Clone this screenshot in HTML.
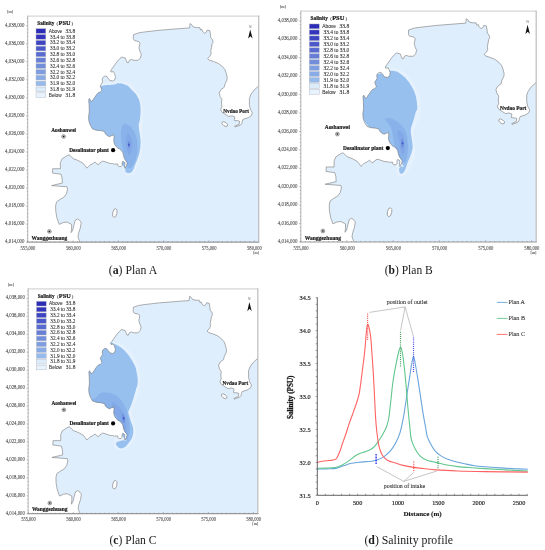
<!DOCTYPE html>
<html><head><meta charset="utf-8"><title>Salinity distribution</title>
<style>html,body{margin:0;padding:0;background:#fff;width:545px;height:550px;overflow:hidden}svg{display:block}</style>
</head><body>
<svg width="545" height="550" viewBox="0 0 545 550">
<rect width="545" height="550" fill="#fff"/>
<g>
<clipPath id="seaa"><path d="M258.7 86.0 L254.0 90.1 L250.8 94.7 L249.4 98.3 L249.4 104.8 L250.4 109.4 L252.2 112.6 L251.7 115.3 L248.5 117.6 L243.0 119.4 L242.3 121.0 L241.8 123.5 L240.6 125.0 L235.0 127.0 L234.6 126.3 L239.2 124.3 L239.6 121.2 L237.5 120.6 L234.6 120.6 L234.0 119.6 L234.8 119.0 L234.6 116.7 L232.0 115.8 L228.8 116.5 L226.1 114.9 L221.9 112.1 L220.6 109.4 L221.9 106.6 L221.5 102.9 L221.9 99.3 L220.1 96.5 L219.2 92.8 L221.0 89.6 L224.2 87.3 L225.1 83.7 L227.0 80.0 L227.2 77.0 L226.0 72.5 L224.9 69.5 L222.4 66.5 L218.3 63.4 L213.3 61.4 L208.8 59.9 L207.7 58.4 L209.8 56.4 L211.1 53.8 L210.8 50.8 L211.5 47.3 L212.1 43.8 L213.1 42.2 L212.5 39.7 L210.8 37.7 L210.5 34.7 L209.8 30.6 L207.2 30.1 L206.4 32.2 L204.7 33.2 L202.7 31.6 L201.7 29.1 L200.7 30.1 L199.7 27.6 L196.6 27.6 L193.1 26.9 L191.6 24.6 L190.1 23.6 L189.6 27.9 L180.0 28.6 L160.0 30.2 L145.0 31.9 L139.0 32.8 L133.5 34.6 L133.3 38.8 L134.4 40.6 L138.6 41.5 L140.0 43.3 L139.0 47.9 L140.0 51.6 L141.3 54.4 L140.4 58.0 L138.1 60.3 L133.5 60.3 L131.2 59.4 L129.4 60.3 L128.5 62.6 L127.1 62.6 L126.2 60.3 L125.3 58.0 L121.6 57.1 L119.8 58.5 L117.0 61.7 L110.6 70.8 L111.0 72.0 L113.4 71.6 L114.3 73.3 L115.5 76.6 L114.7 79.9 L112.6 81.1 L109.7 80.3 L108.1 78.2 L106.4 76.1 L104.6 76.2 L102.6 77.8 L102.2 79.8 L102.7 81.9 L100.2 85.9 L101.2 88.3 L101.9 90.4 L100.3 91.9 L98.2 92.8 L96.3 95.0 L92.0 101.3 L90.7 100.9 L89.5 98.4 L88.7 99.7 L89.1 104.6 L89.3 111.4 L88.6 116.9 L88.9 121.1 L90.3 125.2 L92.6 128.9 L96.2 130.2 L101.3 130.7 L104.5 131.6 L105.4 133.9 L106.8 135.3 L109.5 136.7 L111.4 135.7 L113.7 134.8 L114.1 137.1 L113.7 140.8 L114.5 144.0 L115.9 146.3 L117.8 148.1 L119.6 149.0 L121.3 150.5 L122.8 152.5 L123.5 155.8 L124.3 158.4 L125.4 160.2 L126.8 162.1 L127.2 163.5 L126.5 165.4 L125.4 167.6 L125.0 168.3 L124.6 165.7 L125.0 163.5 L124.3 162.1 L122.8 161.3 L122.1 162.8 L122.1 165.4 L121.0 166.5 L119.1 166.5 L117.6 165.4 L118.0 164.2 L116.5 163.9 L114.7 164.2 L112.5 163.5 L110.3 163.5 L108.1 162.8 L105.1 161.7 L102.5 161.1 L99.5 163.2 L98.4 164.8 L96.8 163.7 L95.1 162.1 L93.4 163.2 L91.8 164.3 L90.2 164.8 L88.5 166.5 L86.8 168.1 L85.2 165.9 L83.0 163.2 L78.0 160.4 L73.6 158.8 L71.4 157.1 L69.2 154.7 L66.5 156.0 L62.1 158.8 L60.4 162.6 L60.4 168.7 L52.7 168.7 L52.5 173.1 L61.0 174.2 L62.1 178.0 L62.4 183.0 L51.6 185.6 L67.0 186.8 L67.6 189.0 L66.5 193.5 L64.3 196.8 L59.9 199.5 L56.5 201.9 L55.6 206.0 L55.8 211.5 L56.9 217.9 L59.2 224.4 L63.3 222.5 L67.0 222.1 L71.6 224.4 L71.6 228.0 L71.1 232.6 L72.5 230.8 L73.9 225.3 L75.3 220.2 L77.6 218.9 L79.9 220.7 L81.2 222.5 L80.3 228.0 L78.5 233.5 L78.0 237.2 L79.4 240.9 L79.9 242.2 L258.7 242.2 Z"/></clipPath>
<rect x="27.7" y="16.3" width="231.0" height="225.9" fill="#fff"/>
<path d="M258.7 86.0 L254.0 90.1 L250.8 94.7 L249.4 98.3 L249.4 104.8 L250.4 109.4 L252.2 112.6 L251.7 115.3 L248.5 117.6 L243.0 119.4 L242.3 121.0 L241.8 123.5 L240.6 125.0 L235.0 127.0 L234.6 126.3 L239.2 124.3 L239.6 121.2 L237.5 120.6 L234.6 120.6 L234.0 119.6 L234.8 119.0 L234.6 116.7 L232.0 115.8 L228.8 116.5 L226.1 114.9 L221.9 112.1 L220.6 109.4 L221.9 106.6 L221.5 102.9 L221.9 99.3 L220.1 96.5 L219.2 92.8 L221.0 89.6 L224.2 87.3 L225.1 83.7 L227.0 80.0 L227.2 77.0 L226.0 72.5 L224.9 69.5 L222.4 66.5 L218.3 63.4 L213.3 61.4 L208.8 59.9 L207.7 58.4 L209.8 56.4 L211.1 53.8 L210.8 50.8 L211.5 47.3 L212.1 43.8 L213.1 42.2 L212.5 39.7 L210.8 37.7 L210.5 34.7 L209.8 30.6 L207.2 30.1 L206.4 32.2 L204.7 33.2 L202.7 31.6 L201.7 29.1 L200.7 30.1 L199.7 27.6 L196.6 27.6 L193.1 26.9 L191.6 24.6 L190.1 23.6 L189.6 27.9 L180.0 28.6 L160.0 30.2 L145.0 31.9 L139.0 32.8 L133.5 34.6 L133.3 38.8 L134.4 40.6 L138.6 41.5 L140.0 43.3 L139.0 47.9 L140.0 51.6 L141.3 54.4 L140.4 58.0 L138.1 60.3 L133.5 60.3 L131.2 59.4 L129.4 60.3 L128.5 62.6 L127.1 62.6 L126.2 60.3 L125.3 58.0 L121.6 57.1 L119.8 58.5 L117.0 61.7 L110.6 70.8 L111.0 72.0 L113.4 71.6 L114.3 73.3 L115.5 76.6 L114.7 79.9 L112.6 81.1 L109.7 80.3 L108.1 78.2 L106.4 76.1 L104.6 76.2 L102.6 77.8 L102.2 79.8 L102.7 81.9 L100.2 85.9 L101.2 88.3 L101.9 90.4 L100.3 91.9 L98.2 92.8 L96.3 95.0 L92.0 101.3 L90.7 100.9 L89.5 98.4 L88.7 99.7 L89.1 104.6 L89.3 111.4 L88.6 116.9 L88.9 121.1 L90.3 125.2 L92.6 128.9 L96.2 130.2 L101.3 130.7 L104.5 131.6 L105.4 133.9 L106.8 135.3 L109.5 136.7 L111.4 135.7 L113.7 134.8 L114.1 137.1 L113.7 140.8 L114.5 144.0 L115.9 146.3 L117.8 148.1 L119.6 149.0 L121.3 150.5 L122.8 152.5 L123.5 155.8 L124.3 158.4 L125.4 160.2 L126.8 162.1 L127.2 163.5 L126.5 165.4 L125.4 167.6 L125.0 168.3 L124.6 165.7 L125.0 163.5 L124.3 162.1 L122.8 161.3 L122.1 162.8 L122.1 165.4 L121.0 166.5 L119.1 166.5 L117.6 165.4 L118.0 164.2 L116.5 163.9 L114.7 164.2 L112.5 163.5 L110.3 163.5 L108.1 162.8 L105.1 161.7 L102.5 161.1 L99.5 163.2 L98.4 164.8 L96.8 163.7 L95.1 162.1 L93.4 163.2 L91.8 164.3 L90.2 164.8 L88.5 166.5 L86.8 168.1 L85.2 165.9 L83.0 163.2 L78.0 160.4 L73.6 158.8 L71.4 157.1 L69.2 154.7 L66.5 156.0 L62.1 158.8 L60.4 162.6 L60.4 168.7 L52.7 168.7 L52.5 173.1 L61.0 174.2 L62.1 178.0 L62.4 183.0 L51.6 185.6 L67.0 186.8 L67.6 189.0 L66.5 193.5 L64.3 196.8 L59.9 199.5 L56.5 201.9 L55.6 206.0 L55.8 211.5 L56.9 217.9 L59.2 224.4 L63.3 222.5 L67.0 222.1 L71.6 224.4 L71.6 228.0 L71.1 232.6 L72.5 230.8 L73.9 225.3 L75.3 220.2 L77.6 218.9 L79.9 220.7 L81.2 222.5 L80.3 228.0 L78.5 233.5 L78.0 237.2 L79.4 240.9 L79.9 242.2 L258.7 242.2 Z" fill="#dfeefc"/>
<g clip-path="url(#seaa)">
<path d="M101.00 83.00 C104.20 82.60 108.40 82.34 112.00 82.00 C115.60 81.66 116.20 81.24 119.00 81.30 C121.80 81.36 123.60 81.50 126.00 82.30 C128.40 83.10 129.00 83.70 131.00 85.30 C133.00 86.90 134.20 88.16 136.00 90.30 C137.80 92.44 138.72 93.46 140.00 96.00 C141.28 98.54 141.84 99.80 142.40 103.00 C142.96 106.20 142.84 107.60 142.80 112.00 C142.76 116.40 142.24 119.40 142.20 125.00 C142.16 130.60 142.60 135.00 142.60 140.00 C142.60 145.00 142.72 146.00 142.20 150.00 C141.68 154.00 141.14 156.40 140.00 160.00 C138.86 163.60 137.80 165.40 136.50 168.00 C135.20 170.60 134.80 171.54 133.50 173.00 C132.20 174.46 131.60 174.90 130.00 175.30 C128.40 175.70 126.80 176.26 125.50 175.00 C124.20 173.74 126.60 174.00 123.50 169.00 C120.40 164.00 117.90 158.80 110.00 150.00 C102.10 141.20 89.20 136.00 84.00 125.00 C78.80 114.00 81.60 103.20 84.00 95.00 C86.40 86.80 92.60 86.40 96.00 84.00 C99.40 81.60 97.80 83.40 101.00 83.00 Z" fill="#e5f1fd"/>
<path d="M101.00 86.30 C102.56 86.04 102.12 85.58 104.80 85.20 C107.48 84.82 111.60 84.78 114.40 84.40 C117.20 84.02 116.74 83.30 118.80 83.30 C120.86 83.30 122.78 83.82 124.70 84.40 C126.62 84.98 127.08 85.18 128.40 86.20 C129.72 87.22 129.90 88.02 131.30 89.50 C132.70 90.98 134.08 91.98 135.40 93.60 C136.72 95.22 137.04 95.92 137.90 97.60 C138.76 99.28 139.18 99.94 139.70 102.00 C140.22 104.06 140.34 105.70 140.50 107.90 C140.66 110.10 140.64 110.58 140.50 113.00 C140.36 115.42 140.16 117.42 139.80 120.00 C139.44 122.58 138.70 122.98 138.70 125.90 C138.70 128.82 139.42 131.32 139.80 134.60 C140.18 137.88 140.60 139.02 140.60 142.30 C140.60 145.58 140.40 147.74 139.80 151.00 C139.20 154.26 138.48 155.98 137.60 158.60 C136.72 161.22 136.26 161.92 135.40 164.10 C134.54 166.28 134.28 167.76 133.30 169.50 C132.32 171.24 131.82 172.14 130.50 172.80 C129.18 173.46 127.78 173.24 126.70 172.80 C125.62 172.36 125.64 171.76 125.10 170.60 C124.56 169.44 127.02 171.12 124.00 167.00 C120.98 162.88 118.00 158.40 110.00 150.00 C102.00 141.60 89.20 136.00 84.00 125.00 C78.80 114.00 81.40 102.70 84.00 95.00 C86.60 87.30 93.60 88.24 97.00 86.50 C100.40 84.76 99.44 86.56 101.00 86.30 Z" fill="#97c0ef"/>
<path d="M124.00 124.00 C125.44 123.22 126.90 124.40 128.50 125.30 C130.10 126.20 130.46 126.20 132.00 128.50 C133.54 130.80 135.08 132.96 136.20 136.80 C137.32 140.64 137.64 143.34 137.60 147.70 C137.56 152.06 136.96 155.04 136.00 158.60 C135.04 162.16 134.24 163.62 132.80 165.50 C131.36 167.38 130.16 168.70 128.80 168.00 C127.44 167.30 127.16 165.60 126.00 162.00 C124.84 158.40 123.96 154.40 123.00 150.00 C122.04 145.60 121.54 144.16 121.20 140.00 C120.86 135.84 120.74 132.40 121.30 129.20 C121.86 126.00 122.56 124.78 124.00 124.00 Z" fill="#8ab2ea"/>
<path d="M128.00 133.50 C128.90 133.50 129.92 135.10 130.80 137.00 C131.68 138.90 132.20 140.40 132.40 143.00 C132.60 145.60 132.32 147.60 131.80 150.00 C131.28 152.40 130.64 154.60 129.80 155.00 C128.96 155.40 128.38 154.20 127.60 152.00 C126.82 149.80 126.16 147.00 125.90 144.00 C125.64 141.00 125.88 139.10 126.30 137.00 C126.72 134.90 127.10 133.50 128.00 133.50 Z" fill="#82a8e7"/>
<path d="M128.90 141.00 C129.30 141.00 129.80 141.90 130.00 143.00 C130.20 144.10 130.12 145.44 129.90 146.50 C129.68 147.56 129.28 148.34 128.90 148.30 C128.52 148.26 128.18 147.36 128.00 146.30 C127.82 145.24 127.82 144.06 128.00 143.00 C128.18 141.94 128.50 141.00 128.90 141.00 Z" fill="#7092de"/>
<path d="M128.90 143.40 C129.24 143.40 129.80 144.14 129.80 144.70 C129.80 145.26 129.24 146.20 128.90 146.20 C128.56 146.20 128.10 145.26 128.10 144.70 C128.10 144.14 128.56 143.40 128.90 143.40 Z" fill="#4152ca"/>
</g>
<path d="M258.7 86.0 L254.0 90.1 L250.8 94.7 L249.4 98.3 L249.4 104.8 L250.4 109.4 L252.2 112.6 L251.7 115.3 L248.5 117.6 L243.0 119.4 L242.3 121.0 L241.8 123.5 L240.6 125.0 L235.0 127.0 L234.6 126.3 L239.2 124.3 L239.6 121.2 L237.5 120.6 L234.6 120.6 L234.0 119.6 L234.8 119.0 L234.6 116.7 L232.0 115.8 L228.8 116.5 L226.1 114.9 L221.9 112.1 L220.6 109.4 L221.9 106.6 L221.5 102.9 L221.9 99.3 L220.1 96.5 L219.2 92.8 L221.0 89.6 L224.2 87.3 L225.1 83.7 L227.0 80.0 L227.2 77.0 L226.0 72.5 L224.9 69.5 L222.4 66.5 L218.3 63.4 L213.3 61.4 L208.8 59.9 L207.7 58.4 L209.8 56.4 L211.1 53.8 L210.8 50.8 L211.5 47.3 L212.1 43.8 L213.1 42.2 L212.5 39.7 L210.8 37.7 L210.5 34.7 L209.8 30.6 L207.2 30.1 L206.4 32.2 L204.7 33.2 L202.7 31.6 L201.7 29.1 L200.7 30.1 L199.7 27.6 L196.6 27.6 L193.1 26.9 L191.6 24.6 L190.1 23.6 L189.6 27.9 L180.0 28.6 L160.0 30.2 L145.0 31.9 L139.0 32.8 L133.5 34.6 L133.3 38.8 L134.4 40.6 L138.6 41.5 L140.0 43.3 L139.0 47.9 L140.0 51.6 L141.3 54.4 L140.4 58.0 L138.1 60.3 L133.5 60.3 L131.2 59.4 L129.4 60.3 L128.5 62.6 L127.1 62.6 L126.2 60.3 L125.3 58.0 L121.6 57.1 L119.8 58.5 L117.0 61.7 L110.6 70.8 L111.0 72.0 L113.4 71.6 L114.3 73.3 L115.5 76.6 L114.7 79.9 L112.6 81.1 L109.7 80.3 L108.1 78.2 L106.4 76.1 L104.6 76.2 L102.6 77.8 L102.2 79.8 L102.7 81.9 L100.2 85.9 L101.2 88.3 L101.9 90.4 L100.3 91.9 L98.2 92.8 L96.3 95.0 L92.0 101.3 L90.7 100.9 L89.5 98.4 L88.7 99.7 L89.1 104.6 L89.3 111.4 L88.6 116.9 L88.9 121.1 L90.3 125.2 L92.6 128.9 L96.2 130.2 L101.3 130.7 L104.5 131.6 L105.4 133.9 L106.8 135.3 L109.5 136.7 L111.4 135.7 L113.7 134.8 L114.1 137.1 L113.7 140.8 L114.5 144.0 L115.9 146.3 L117.8 148.1 L119.6 149.0 L121.3 150.5 L122.8 152.5 L123.5 155.8 L124.3 158.4 L125.4 160.2 L126.8 162.1 L127.2 163.5 L126.5 165.4 L125.4 167.6 L125.0 168.3 L124.6 165.7 L125.0 163.5 L124.3 162.1 L122.8 161.3 L122.1 162.8 L122.1 165.4 L121.0 166.5 L119.1 166.5 L117.6 165.4 L118.0 164.2 L116.5 163.9 L114.7 164.2 L112.5 163.5 L110.3 163.5 L108.1 162.8 L105.1 161.7 L102.5 161.1 L99.5 163.2 L98.4 164.8 L96.8 163.7 L95.1 162.1 L93.4 163.2 L91.8 164.3 L90.2 164.8 L88.5 166.5 L86.8 168.1 L85.2 165.9 L83.0 163.2 L78.0 160.4 L73.6 158.8 L71.4 157.1 L69.2 154.7 L66.5 156.0 L62.1 158.8 L60.4 162.6 L60.4 168.7 L52.7 168.7 L52.5 173.1 L61.0 174.2 L62.1 178.0 L62.4 183.0 L51.6 185.6 L67.0 186.8 L67.6 189.0 L66.5 193.5 L64.3 196.8 L59.9 199.5 L56.5 201.9 L55.6 206.0 L55.8 211.5 L56.9 217.9 L59.2 224.4 L63.3 222.5 L67.0 222.1 L71.6 224.4 L71.6 228.0 L71.1 232.6 L72.5 230.8 L73.9 225.3 L75.3 220.2 L77.6 218.9 L79.9 220.7 L81.2 222.5 L80.3 228.0 L78.5 233.5 L78.0 237.2 L79.4 240.9 L79.9 242.2" fill="none" stroke="#7a7a7a" stroke-width="0.6" stroke-linejoin="round"/>
<ellipse cx="114.8" cy="213.0" rx="2.1" ry="4.4" transform="rotate(12 114.8 213.0)" fill="#fff" stroke="#7a7a7a" stroke-width="0.6"/>
<ellipse cx="224.8" cy="124.1" rx="3.2" ry="1.8" transform="rotate(35 224.8 124.1)" fill="#fff" stroke="#7a7a7a" stroke-width="0.6"/>
<path d="M27.2 16.1 H259.3" stroke="#d6d6d6" stroke-width="1.2"/>
<path d="M258.7 15.7 V242.2" stroke="#bdbdbd" stroke-width="1.2"/>
<path d="M27.7 15.7 V242.2" stroke="#bcbcbc" stroke-width="1.1"/>
<path d="M27.2 242.1 H259.3" stroke="#9a9a9a" stroke-width="1.1"/>
<path d="M27.7 242.20 h-1.6 M27.7 238.59 h-0.9 M27.7 234.98 h-0.9 M27.7 231.38 h-0.9 M27.7 227.77 h-0.9 M27.7 224.16 h-1.6 M27.7 220.55 h-0.9 M27.7 216.94 h-0.9 M27.7 213.34 h-0.9 M27.7 209.73 h-0.9 M27.7 206.12 h-1.6 M27.7 202.51 h-0.9 M27.7 198.90 h-0.9 M27.7 195.30 h-0.9 M27.7 191.69 h-0.9 M27.7 188.08 h-1.6 M27.7 184.47 h-0.9 M27.7 180.86 h-0.9 M27.7 177.26 h-0.9 M27.7 173.65 h-0.9 M27.7 170.04 h-1.6 M27.7 166.43 h-0.9 M27.7 162.82 h-0.9 M27.7 159.22 h-0.9 M27.7 155.61 h-0.9 M27.7 152.00 h-1.6 M27.7 148.39 h-0.9 M27.7 144.78 h-0.9 M27.7 141.18 h-0.9 M27.7 137.57 h-0.9 M27.7 133.96 h-1.6 M27.7 130.35 h-0.9 M27.7 126.74 h-0.9 M27.7 123.14 h-0.9 M27.7 119.53 h-0.9 M27.7 115.92 h-1.6 M27.7 112.31 h-0.9 M27.7 108.70 h-0.9 M27.7 105.10 h-0.9 M27.7 101.49 h-0.9 M27.7 97.88 h-1.6 M27.7 94.27 h-0.9 M27.7 90.66 h-0.9 M27.7 87.06 h-0.9 M27.7 83.45 h-0.9 M27.7 79.84 h-1.6 M27.7 76.23 h-0.9 M27.7 72.62 h-0.9 M27.7 69.02 h-0.9 M27.7 65.41 h-0.9 M27.7 61.80 h-1.6 M27.7 58.19 h-0.9 M27.7 54.58 h-0.9 M27.7 50.98 h-0.9 M27.7 47.37 h-0.9 M27.7 43.76 h-1.6 M27.7 40.15 h-0.9 M27.7 36.54 h-0.9 M27.7 32.94 h-0.9 M27.7 29.33 h-0.9 M27.7 25.72 h-1.6 M27.7 22.11 h-0.9 M27.7 18.50 h-0.9 M27.70 242.1 v-1.6 M32.23 242.1 v-0.9 M36.76 242.1 v-0.9 M41.29 242.1 v-0.9 M45.82 242.1 v-0.9 M50.35 242.1 v-0.9 M54.88 242.1 v-0.9 M59.41 242.1 v-0.9 M63.94 242.1 v-0.9 M68.47 242.1 v-0.9 M73.00 242.1 v-1.6 M77.53 242.1 v-0.9 M82.06 242.1 v-0.9 M86.59 242.1 v-0.9 M91.12 242.1 v-0.9 M95.65 242.1 v-0.9 M100.18 242.1 v-0.9 M104.71 242.1 v-0.9 M109.24 242.1 v-0.9 M113.77 242.1 v-0.9 M118.30 242.1 v-1.6 M122.83 242.1 v-0.9 M127.36 242.1 v-0.9 M131.89 242.1 v-0.9 M136.42 242.1 v-0.9 M140.95 242.1 v-0.9 M145.48 242.1 v-0.9 M150.01 242.1 v-0.9 M154.54 242.1 v-0.9 M159.07 242.1 v-0.9 M163.60 242.1 v-1.6 M168.13 242.1 v-0.9 M172.66 242.1 v-0.9 M177.19 242.1 v-0.9 M181.72 242.1 v-0.9 M186.25 242.1 v-0.9 M190.78 242.1 v-0.9 M195.31 242.1 v-0.9 M199.84 242.1 v-0.9 M204.37 242.1 v-0.9 M208.90 242.1 v-1.6 M213.43 242.1 v-0.9 M217.96 242.1 v-0.9 M222.49 242.1 v-0.9 M227.02 242.1 v-0.9 M231.55 242.1 v-0.9 M236.08 242.1 v-0.9 M240.61 242.1 v-0.9 M245.14 242.1 v-0.9 M249.67 242.1 v-0.9 M254.20 242.1 v-1.6" stroke="#777" stroke-width="0.5"/>
<text x="5.10" y="26.75" font-size="5.20" font-family="'Liberation Serif', 'Times New Roman', serif" fill="#3a3a3a" textLength="19.30" lengthAdjust="spacingAndGlyphs" stroke="#3a3a3a" stroke-width="0.06">4,038,000</text><text x="5.10" y="44.79" font-size="5.20" font-family="'Liberation Serif', 'Times New Roman', serif" fill="#3a3a3a" textLength="19.30" lengthAdjust="spacingAndGlyphs" stroke="#3a3a3a" stroke-width="0.06">4,036,000</text><text x="5.10" y="62.83" font-size="5.20" font-family="'Liberation Serif', 'Times New Roman', serif" fill="#3a3a3a" textLength="19.30" lengthAdjust="spacingAndGlyphs" stroke="#3a3a3a" stroke-width="0.06">4,034,000</text><text x="5.10" y="80.87" font-size="5.20" font-family="'Liberation Serif', 'Times New Roman', serif" fill="#3a3a3a" textLength="19.30" lengthAdjust="spacingAndGlyphs" stroke="#3a3a3a" stroke-width="0.06">4,032,000</text><text x="5.10" y="98.91" font-size="5.20" font-family="'Liberation Serif', 'Times New Roman', serif" fill="#3a3a3a" textLength="19.30" lengthAdjust="spacingAndGlyphs" stroke="#3a3a3a" stroke-width="0.06">4,030,000</text><text x="5.10" y="116.95" font-size="5.20" font-family="'Liberation Serif', 'Times New Roman', serif" fill="#3a3a3a" textLength="19.30" lengthAdjust="spacingAndGlyphs" stroke="#3a3a3a" stroke-width="0.06">4,028,000</text><text x="5.10" y="134.99" font-size="5.20" font-family="'Liberation Serif', 'Times New Roman', serif" fill="#3a3a3a" textLength="19.30" lengthAdjust="spacingAndGlyphs" stroke="#3a3a3a" stroke-width="0.06">4,026,000</text><text x="5.10" y="153.03" font-size="5.20" font-family="'Liberation Serif', 'Times New Roman', serif" fill="#3a3a3a" textLength="19.30" lengthAdjust="spacingAndGlyphs" stroke="#3a3a3a" stroke-width="0.06">4,024,000</text><text x="5.10" y="171.07" font-size="5.20" font-family="'Liberation Serif', 'Times New Roman', serif" fill="#3a3a3a" textLength="19.30" lengthAdjust="spacingAndGlyphs" stroke="#3a3a3a" stroke-width="0.06">4,022,000</text><text x="5.10" y="189.11" font-size="5.20" font-family="'Liberation Serif', 'Times New Roman', serif" fill="#3a3a3a" textLength="19.30" lengthAdjust="spacingAndGlyphs" stroke="#3a3a3a" stroke-width="0.06">4,020,000</text><text x="5.10" y="207.15" font-size="5.20" font-family="'Liberation Serif', 'Times New Roman', serif" fill="#3a3a3a" textLength="19.30" lengthAdjust="spacingAndGlyphs" stroke="#3a3a3a" stroke-width="0.06">4,018,000</text><text x="5.10" y="225.19" font-size="5.20" font-family="'Liberation Serif', 'Times New Roman', serif" fill="#3a3a3a" textLength="19.30" lengthAdjust="spacingAndGlyphs" stroke="#3a3a3a" stroke-width="0.06">4,016,000</text><text x="5.10" y="243.23" font-size="5.20" font-family="'Liberation Serif', 'Times New Roman', serif" fill="#3a3a3a" textLength="19.30" lengthAdjust="spacingAndGlyphs" stroke="#3a3a3a" stroke-width="0.06">4,014,000</text><text x="20.60" y="249.60" font-size="5.20" font-family="'Liberation Serif', 'Times New Roman', serif" fill="#3a3a3a" textLength="14.80" lengthAdjust="spacingAndGlyphs" stroke="#3a3a3a" stroke-width="0.06">555,000</text><text x="65.90" y="249.60" font-size="5.20" font-family="'Liberation Serif', 'Times New Roman', serif" fill="#3a3a3a" textLength="14.80" lengthAdjust="spacingAndGlyphs" stroke="#3a3a3a" stroke-width="0.06">560,000</text><text x="111.20" y="249.60" font-size="5.20" font-family="'Liberation Serif', 'Times New Roman', serif" fill="#3a3a3a" textLength="14.80" lengthAdjust="spacingAndGlyphs" stroke="#3a3a3a" stroke-width="0.06">565,000</text><text x="156.50" y="249.60" font-size="5.20" font-family="'Liberation Serif', 'Times New Roman', serif" fill="#3a3a3a" textLength="14.80" lengthAdjust="spacingAndGlyphs" stroke="#3a3a3a" stroke-width="0.06">570,000</text><text x="201.80" y="249.60" font-size="5.20" font-family="'Liberation Serif', 'Times New Roman', serif" fill="#3a3a3a" textLength="14.80" lengthAdjust="spacingAndGlyphs" stroke="#3a3a3a" stroke-width="0.06">575,000</text><text x="247.10" y="249.60" font-size="5.20" font-family="'Liberation Serif', 'Times New Roman', serif" fill="#3a3a3a" textLength="14.80" lengthAdjust="spacingAndGlyphs" stroke="#3a3a3a" stroke-width="0.06">580,000</text>
<text x="7.20" y="12.80" font-size="4.20" font-family="'Liberation Serif', 'Times New Roman', serif" fill="#3a3a3a" textLength="6.00" lengthAdjust="spacingAndGlyphs" stroke="#3a3a3a" stroke-width="0.06">[m]</text>
<text x="253.20" y="253.60" font-size="4.20" font-family="'Liberation Serif', 'Times New Roman', serif" fill="#3a3a3a" textLength="5.80" lengthAdjust="spacingAndGlyphs" stroke="#3a3a3a" stroke-width="0.06">[m]</text>
<text x="37.30" y="25.20" font-size="5.90" font-family="'Liberation Serif', 'Times New Roman', serif" fill="#1a1a1a" font-weight="bold" textLength="17.00" lengthAdjust="spacingAndGlyphs" stroke="#1a1a1a" stroke-width="0.20">Salinity</text>
<text x="56.60" y="25.00" font-size="4.80" font-family="'Liberation Serif', 'Times New Roman', serif" fill="#333" stroke="#333" stroke-width="0.10">(</text>
<text x="58.50" y="25.20" font-size="5.90" font-family="'Liberation Serif', 'Times New Roman', serif" fill="#1a1a1a" font-weight="bold" textLength="12.00" lengthAdjust="spacingAndGlyphs" stroke="#1a1a1a" stroke-width="0.20">PSU</text>
<text x="71.60" y="25.00" font-size="4.80" font-family="'Liberation Serif', 'Times New Roman', serif" fill="#333" stroke="#333" stroke-width="0.10">)</text>
<rect x="36.0" y="28.70" width="9.8" height="4.7" fill="#2c2cb6" stroke="#b4b8c4" stroke-width="0.45"/>
<text x="48.70" y="32.80" font-size="4.80" font-family="'Liberation Sans', Arial, sans-serif" fill="#2a2a2a" stroke="#2a2a2a" stroke-width="0.05">Above</text>
<text x="65.60" y="32.80" font-size="5.30" font-family="'Liberation Serif', 'Times New Roman', serif" fill="#2a2a2a" textLength="9.60" lengthAdjust="spacingAndGlyphs" stroke="#2a2a2a" stroke-width="0.07">33.8</text>
<rect x="36.0" y="34.53" width="9.8" height="4.7" fill="#3434bc" stroke="#b4b8c4" stroke-width="0.45"/>
<text x="50.00" y="38.63" font-size="5.30" font-family="'Liberation Serif', 'Times New Roman', serif" fill="#2a2a2a" textLength="25.20" lengthAdjust="spacingAndGlyphs" stroke="#2a2a2a" stroke-width="0.07">33.4 to 33.8</text>
<rect x="36.0" y="40.36" width="9.8" height="4.7" fill="#3d45c3" stroke="#b4b8c4" stroke-width="0.45"/>
<text x="50.00" y="44.46" font-size="5.30" font-family="'Liberation Serif', 'Times New Roman', serif" fill="#2a2a2a" textLength="25.20" lengthAdjust="spacingAndGlyphs" stroke="#2a2a2a" stroke-width="0.07">33.2 to 33.4</text>
<rect x="36.0" y="46.19" width="9.8" height="4.7" fill="#4b58c9" stroke="#b4b8c4" stroke-width="0.45"/>
<text x="50.00" y="50.29" font-size="5.30" font-family="'Liberation Serif', 'Times New Roman', serif" fill="#2a2a2a" textLength="25.20" lengthAdjust="spacingAndGlyphs" stroke="#2a2a2a" stroke-width="0.07">33.0 to 33.2</text>
<rect x="36.0" y="52.02" width="9.8" height="4.7" fill="#586bd0" stroke="#b4b8c4" stroke-width="0.45"/>
<text x="50.00" y="56.12" font-size="5.30" font-family="'Liberation Serif', 'Times New Roman', serif" fill="#2a2a2a" textLength="25.20" lengthAdjust="spacingAndGlyphs" stroke="#2a2a2a" stroke-width="0.07">32.8 to 33.0</text>
<rect x="36.0" y="57.85" width="9.8" height="4.7" fill="#667ed6" stroke="#b4b8c4" stroke-width="0.45"/>
<text x="50.00" y="61.95" font-size="5.30" font-family="'Liberation Serif', 'Times New Roman', serif" fill="#2a2a2a" textLength="25.20" lengthAdjust="spacingAndGlyphs" stroke="#2a2a2a" stroke-width="0.07">32.6 to 32.8</text>
<rect x="36.0" y="63.68" width="9.8" height="4.7" fill="#728edb" stroke="#b4b8c4" stroke-width="0.45"/>
<text x="50.00" y="67.78" font-size="5.30" font-family="'Liberation Serif', 'Times New Roman', serif" fill="#2a2a2a" textLength="25.20" lengthAdjust="spacingAndGlyphs" stroke="#2a2a2a" stroke-width="0.07">32.4 to 32.6</text>
<rect x="36.0" y="69.51" width="9.8" height="4.7" fill="#7e9ee1" stroke="#b4b8c4" stroke-width="0.45"/>
<text x="50.00" y="73.61" font-size="5.30" font-family="'Liberation Serif', 'Times New Roman', serif" fill="#2a2a2a" textLength="25.20" lengthAdjust="spacingAndGlyphs" stroke="#2a2a2a" stroke-width="0.07">32.2 to 32.4</text>
<rect x="36.0" y="75.34" width="9.8" height="4.7" fill="#8aace6" stroke="#b4b8c4" stroke-width="0.45"/>
<text x="50.00" y="79.44" font-size="5.30" font-family="'Liberation Serif', 'Times New Roman', serif" fill="#2a2a2a" textLength="25.20" lengthAdjust="spacingAndGlyphs" stroke="#2a2a2a" stroke-width="0.07">32.0 to 32.2</text>
<rect x="36.0" y="81.17" width="9.8" height="4.7" fill="#96baec" stroke="#b4b8c4" stroke-width="0.45"/>
<text x="50.00" y="85.27" font-size="5.30" font-family="'Liberation Serif', 'Times New Roman', serif" fill="#2a2a2a" textLength="25.20" lengthAdjust="spacingAndGlyphs" stroke="#2a2a2a" stroke-width="0.07">31.9 to 32.0</text>
<rect x="36.0" y="87.00" width="9.8" height="4.7" fill="#dcecfb" stroke="#b4b8c4" stroke-width="0.45"/>
<text x="50.00" y="91.10" font-size="5.30" font-family="'Liberation Serif', 'Times New Roman', serif" fill="#2a2a2a" textLength="25.20" lengthAdjust="spacingAndGlyphs" stroke="#2a2a2a" stroke-width="0.07">31.8 to 31.9</text>
<rect x="36.0" y="92.83" width="9.8" height="4.7" fill="#e8f3fd" stroke="#b4b8c4" stroke-width="0.45"/>
<text x="48.70" y="96.93" font-size="4.80" font-family="'Liberation Sans', Arial, sans-serif" fill="#2a2a2a" stroke="#2a2a2a" stroke-width="0.05">Below</text>
<text x="65.60" y="96.93" font-size="5.30" font-family="'Liberation Serif', 'Times New Roman', serif" fill="#2a2a2a" textLength="9.60" lengthAdjust="spacingAndGlyphs" stroke="#2a2a2a" stroke-width="0.07">31.8</text>
<text x="249.20" y="27.60" font-size="3.00" font-family="'Liberation Sans', Arial, sans-serif" fill="#555">N</text>
<path d="M250.2 29.4 L252.6 38.6 L250.4 36.2 L248.1 38.6 Z" fill="#111"/>
<text x="51.20" y="131.80" font-size="5.40" font-family="'Liberation Serif', 'Times New Roman', serif" fill="#1a1a1a" font-weight="bold" textLength="24.80" lengthAdjust="spacingAndGlyphs" stroke="#1a1a1a" stroke-width="0.18">Aoshanwei</text>
<circle cx="63.6" cy="136.5" r="1.9" fill="#c4c4c4" stroke="#666" stroke-width="0.5"/><circle cx="63.6" cy="136.5" r="0.75" fill="#111"/>
<text x="69.20" y="151.90" font-size="5.40" font-family="'Liberation Serif', 'Times New Roman', serif" fill="#1a1a1a" font-weight="bold" textLength="39.60" lengthAdjust="spacingAndGlyphs" stroke="#1a1a1a" stroke-width="0.18">Desalinator plant</text>
<circle cx="113.1" cy="150.2" r="2.1" fill="#000"/>
<text x="223.30" y="112.70" font-size="5.20" font-family="'Liberation Serif', 'Times New Roman', serif" fill="#1a1a1a" font-weight="bold" textLength="25.70" lengthAdjust="spacingAndGlyphs" stroke="#1a1a1a" stroke-width="0.18">Nvdao Port</text>
<circle cx="49.4" cy="231.4" r="1.9" fill="#c4c4c4" stroke="#666" stroke-width="0.5"/><circle cx="49.4" cy="231.4" r="0.75" fill="#111"/>
<text x="31.50" y="239.80" font-size="5.40" font-family="'Liberation Serif', 'Times New Roman', serif" fill="#1a1a1a" font-weight="bold" textLength="35.80" lengthAdjust="spacingAndGlyphs" stroke="#1a1a1a" stroke-width="0.18">Wanggezhuang</text>
</g>
<g transform="matrix(1.0190 0 0 1.0215 272.574 -5.350)">
<clipPath id="seab"><path d="M258.7 86.0 L254.0 90.1 L250.8 94.7 L249.4 98.3 L249.4 104.8 L250.4 109.4 L252.2 112.6 L251.7 115.3 L248.5 117.6 L243.0 119.4 L242.3 121.0 L241.8 123.5 L240.6 125.0 L235.0 127.0 L234.6 126.3 L239.2 124.3 L239.6 121.2 L237.5 120.6 L234.6 120.6 L234.0 119.6 L234.8 119.0 L234.6 116.7 L232.0 115.8 L228.8 116.5 L226.1 114.9 L221.9 112.1 L220.6 109.4 L221.9 106.6 L221.5 102.9 L221.9 99.3 L220.1 96.5 L219.2 92.8 L221.0 89.6 L224.2 87.3 L225.1 83.7 L227.0 80.0 L227.2 77.0 L226.0 72.5 L224.9 69.5 L222.4 66.5 L218.3 63.4 L213.3 61.4 L208.8 59.9 L207.7 58.4 L209.8 56.4 L211.1 53.8 L210.8 50.8 L211.5 47.3 L212.1 43.8 L213.1 42.2 L212.5 39.7 L210.8 37.7 L210.5 34.7 L209.8 30.6 L207.2 30.1 L206.4 32.2 L204.7 33.2 L202.7 31.6 L201.7 29.1 L200.7 30.1 L199.7 27.6 L196.6 27.6 L193.1 26.9 L191.6 24.6 L190.1 23.6 L189.6 27.9 L180.0 28.6 L160.0 30.2 L145.0 31.9 L139.0 32.8 L133.5 34.6 L133.3 38.8 L134.4 40.6 L138.6 41.5 L140.0 43.3 L139.0 47.9 L140.0 51.6 L141.3 54.4 L140.4 58.0 L138.1 60.3 L133.5 60.3 L131.2 59.4 L129.4 60.3 L128.5 62.6 L127.1 62.6 L126.2 60.3 L125.3 58.0 L121.6 57.1 L119.8 58.5 L117.0 61.7 L110.6 70.8 L111.0 72.0 L113.4 71.6 L114.3 73.3 L115.5 76.6 L114.7 79.9 L112.6 81.1 L109.7 80.3 L108.1 78.2 L106.4 76.1 L104.6 76.2 L102.6 77.8 L102.2 79.8 L102.7 81.9 L100.2 85.9 L101.2 88.3 L101.9 90.4 L100.3 91.9 L98.2 92.8 L96.3 95.0 L92.0 101.3 L90.7 100.9 L89.5 98.4 L88.7 99.7 L89.1 104.6 L89.3 111.4 L88.6 116.9 L88.9 121.1 L90.3 125.2 L92.6 128.9 L96.2 130.2 L101.3 130.7 L104.5 131.6 L105.4 133.9 L106.8 135.3 L109.5 136.7 L111.4 135.7 L113.7 134.8 L114.1 137.1 L113.7 140.8 L114.5 144.0 L115.9 146.3 L117.8 148.1 L119.6 149.0 L121.3 150.5 L122.8 152.5 L123.5 155.8 L124.3 158.4 L125.4 160.2 L126.8 162.1 L127.2 163.5 L126.5 165.4 L125.4 167.6 L125.0 168.3 L124.6 165.7 L125.0 163.5 L124.3 162.1 L122.8 161.3 L122.1 162.8 L122.1 165.4 L121.0 166.5 L119.1 166.5 L117.6 165.4 L118.0 164.2 L116.5 163.9 L114.7 164.2 L112.5 163.5 L110.3 163.5 L108.1 162.8 L105.1 161.7 L102.5 161.1 L99.5 163.2 L98.4 164.8 L96.8 163.7 L95.1 162.1 L93.4 163.2 L91.8 164.3 L90.2 164.8 L88.5 166.5 L86.8 168.1 L85.2 165.9 L83.0 163.2 L78.0 160.4 L73.6 158.8 L71.4 157.1 L69.2 154.7 L66.5 156.0 L62.1 158.8 L60.4 162.6 L60.4 168.7 L52.7 168.7 L52.5 173.1 L61.0 174.2 L62.1 178.0 L62.4 183.0 L51.6 185.6 L67.0 186.8 L67.6 189.0 L66.5 193.5 L64.3 196.8 L59.9 199.5 L56.5 201.9 L55.6 206.0 L55.8 211.5 L56.9 217.9 L59.2 224.4 L63.3 222.5 L67.0 222.1 L71.6 224.4 L71.6 228.0 L71.1 232.6 L72.5 230.8 L73.9 225.3 L75.3 220.2 L77.6 218.9 L79.9 220.7 L81.2 222.5 L80.3 228.0 L78.5 233.5 L78.0 237.2 L79.4 240.9 L79.9 242.2 L258.7 242.2 Z"/></clipPath>
<rect x="27.7" y="16.3" width="231.0" height="225.9" fill="#fff"/>
<path d="M258.7 86.0 L254.0 90.1 L250.8 94.7 L249.4 98.3 L249.4 104.8 L250.4 109.4 L252.2 112.6 L251.7 115.3 L248.5 117.6 L243.0 119.4 L242.3 121.0 L241.8 123.5 L240.6 125.0 L235.0 127.0 L234.6 126.3 L239.2 124.3 L239.6 121.2 L237.5 120.6 L234.6 120.6 L234.0 119.6 L234.8 119.0 L234.6 116.7 L232.0 115.8 L228.8 116.5 L226.1 114.9 L221.9 112.1 L220.6 109.4 L221.9 106.6 L221.5 102.9 L221.9 99.3 L220.1 96.5 L219.2 92.8 L221.0 89.6 L224.2 87.3 L225.1 83.7 L227.0 80.0 L227.2 77.0 L226.0 72.5 L224.9 69.5 L222.4 66.5 L218.3 63.4 L213.3 61.4 L208.8 59.9 L207.7 58.4 L209.8 56.4 L211.1 53.8 L210.8 50.8 L211.5 47.3 L212.1 43.8 L213.1 42.2 L212.5 39.7 L210.8 37.7 L210.5 34.7 L209.8 30.6 L207.2 30.1 L206.4 32.2 L204.7 33.2 L202.7 31.6 L201.7 29.1 L200.7 30.1 L199.7 27.6 L196.6 27.6 L193.1 26.9 L191.6 24.6 L190.1 23.6 L189.6 27.9 L180.0 28.6 L160.0 30.2 L145.0 31.9 L139.0 32.8 L133.5 34.6 L133.3 38.8 L134.4 40.6 L138.6 41.5 L140.0 43.3 L139.0 47.9 L140.0 51.6 L141.3 54.4 L140.4 58.0 L138.1 60.3 L133.5 60.3 L131.2 59.4 L129.4 60.3 L128.5 62.6 L127.1 62.6 L126.2 60.3 L125.3 58.0 L121.6 57.1 L119.8 58.5 L117.0 61.7 L110.6 70.8 L111.0 72.0 L113.4 71.6 L114.3 73.3 L115.5 76.6 L114.7 79.9 L112.6 81.1 L109.7 80.3 L108.1 78.2 L106.4 76.1 L104.6 76.2 L102.6 77.8 L102.2 79.8 L102.7 81.9 L100.2 85.9 L101.2 88.3 L101.9 90.4 L100.3 91.9 L98.2 92.8 L96.3 95.0 L92.0 101.3 L90.7 100.9 L89.5 98.4 L88.7 99.7 L89.1 104.6 L89.3 111.4 L88.6 116.9 L88.9 121.1 L90.3 125.2 L92.6 128.9 L96.2 130.2 L101.3 130.7 L104.5 131.6 L105.4 133.9 L106.8 135.3 L109.5 136.7 L111.4 135.7 L113.7 134.8 L114.1 137.1 L113.7 140.8 L114.5 144.0 L115.9 146.3 L117.8 148.1 L119.6 149.0 L121.3 150.5 L122.8 152.5 L123.5 155.8 L124.3 158.4 L125.4 160.2 L126.8 162.1 L127.2 163.5 L126.5 165.4 L125.4 167.6 L125.0 168.3 L124.6 165.7 L125.0 163.5 L124.3 162.1 L122.8 161.3 L122.1 162.8 L122.1 165.4 L121.0 166.5 L119.1 166.5 L117.6 165.4 L118.0 164.2 L116.5 163.9 L114.7 164.2 L112.5 163.5 L110.3 163.5 L108.1 162.8 L105.1 161.7 L102.5 161.1 L99.5 163.2 L98.4 164.8 L96.8 163.7 L95.1 162.1 L93.4 163.2 L91.8 164.3 L90.2 164.8 L88.5 166.5 L86.8 168.1 L85.2 165.9 L83.0 163.2 L78.0 160.4 L73.6 158.8 L71.4 157.1 L69.2 154.7 L66.5 156.0 L62.1 158.8 L60.4 162.6 L60.4 168.7 L52.7 168.7 L52.5 173.1 L61.0 174.2 L62.1 178.0 L62.4 183.0 L51.6 185.6 L67.0 186.8 L67.6 189.0 L66.5 193.5 L64.3 196.8 L59.9 199.5 L56.5 201.9 L55.6 206.0 L55.8 211.5 L56.9 217.9 L59.2 224.4 L63.3 222.5 L67.0 222.1 L71.6 224.4 L71.6 228.0 L71.1 232.6 L72.5 230.8 L73.9 225.3 L75.3 220.2 L77.6 218.9 L79.9 220.7 L81.2 222.5 L80.3 228.0 L78.5 233.5 L78.0 237.2 L79.4 240.9 L79.9 242.2 L258.7 242.2 Z" fill="#dfeefc"/>
<g clip-path="url(#seab)">
<path d="M111.31 72.79 C114.26 72.49 117.00 71.90 120.14 72.30 C123.28 72.69 124.46 73.37 127.01 74.74 C129.56 76.11 130.74 77.00 132.90 79.15 C135.06 81.30 136.04 82.67 137.81 85.51 C139.57 88.35 140.46 90.21 141.73 93.34 C143.01 96.48 143.56 98.04 144.19 101.18 C144.81 104.31 144.87 105.87 144.87 109.01 C144.87 112.14 144.91 113.51 144.19 116.84 C143.46 120.17 142.36 122.32 141.24 125.65 C140.12 128.98 139.08 130.15 138.59 133.48 C138.10 136.81 138.55 138.57 138.79 142.29 C139.02 146.01 139.67 148.56 139.77 152.08 C139.87 155.60 139.97 156.98 139.28 159.91 C138.59 162.85 137.71 164.02 136.34 166.77 C134.96 169.51 134.08 171.46 132.41 173.62 C130.74 175.77 129.66 176.75 127.99 177.53 C126.33 178.32 125.34 178.32 124.07 177.53 C122.79 176.75 122.40 175.77 121.62 173.62 C120.83 171.46 123.38 173.03 120.14 166.77 C116.91 160.50 112.29 153.06 105.42 142.29 C98.55 131.52 87.76 125.06 85.80 112.92 C83.83 100.78 91.68 89.43 95.61 81.60 C99.54 73.76 102.28 75.53 105.42 73.76 C108.56 72.00 108.37 73.08 111.31 72.79 Z" fill="#e5f1fd"/>
<path d="M113.27 74.74 C115.69 74.35 117.32 74.39 119.46 74.74 C121.60 75.10 121.99 75.33 123.97 76.51 C125.95 77.68 127.58 78.99 129.37 80.62 C131.15 82.24 131.47 82.75 132.90 84.63 C134.33 86.51 135.28 87.86 136.53 90.02 C137.79 92.17 138.28 93.07 139.18 95.40 C140.08 97.73 140.50 98.96 141.05 101.66 C141.60 104.37 141.79 106.66 141.93 108.91 C142.07 111.16 142.01 111.75 141.73 112.92 C141.46 114.10 141.24 112.79 140.56 114.78 C139.87 116.78 139.20 119.85 138.30 122.91 C137.40 125.96 136.57 127.72 136.04 130.05 C135.51 132.38 135.55 132.40 135.65 134.56 C135.75 136.71 136.18 138.02 136.53 140.82 C136.89 143.62 137.42 145.93 137.42 148.56 C137.42 151.18 137.16 151.61 136.53 153.94 C135.90 156.27 135.18 157.86 134.28 160.21 C133.37 162.56 132.84 163.51 132.02 165.69 C131.19 167.86 130.98 169.29 130.15 171.07 C129.33 172.85 128.80 173.79 127.90 174.60 C126.99 175.40 126.35 175.44 125.64 175.09 C124.93 174.73 124.62 173.83 124.36 172.83 C124.11 171.84 124.01 170.99 124.36 170.09 C124.72 169.19 125.60 169.21 126.13 168.33 C126.66 167.45 131.15 170.90 127.01 165.69 C122.87 160.48 113.67 152.84 105.42 142.29 C97.18 131.74 87.76 124.67 85.80 112.92 C83.83 101.18 91.29 90.80 95.61 83.55 C99.93 76.31 103.85 78.46 107.39 76.70 C110.92 74.94 110.86 75.14 113.27 74.74 Z" fill="#97c0ef"/>
<path d="M110.92 121.54 C111.90 121.17 113.59 120.50 115.83 121.05 C118.06 121.60 119.77 122.65 122.11 124.28 C124.44 125.90 125.70 126.94 127.50 129.17 C129.31 131.41 130.13 132.56 131.13 135.44 C132.14 138.32 132.16 140.24 132.51 143.56 C132.86 146.89 133.20 148.38 132.90 152.08 C132.61 155.78 131.84 159.72 131.04 162.07 C130.23 164.42 130.86 165.83 128.88 163.83 C126.90 161.83 123.46 158.11 121.12 152.08 C118.79 146.05 118.44 138.43 117.20 133.68 C115.96 128.92 116.20 130.45 114.94 128.29 C113.69 126.14 111.72 124.26 110.92 122.91 C110.11 121.56 109.94 121.91 110.92 121.54 Z" fill="#8ab2ea"/>
<path d="M123.48 132.80 C124.46 132.60 126.33 133.66 127.50 135.44 C128.68 137.22 128.88 138.96 129.37 141.70 C129.86 144.44 130.04 146.29 129.96 149.14 C129.88 152.00 129.76 155.02 128.98 156.00 C128.19 156.98 126.91 156.39 126.03 154.04 C125.15 151.69 125.25 147.77 124.56 144.25 C123.87 140.72 122.81 138.71 122.60 136.42 C122.38 134.13 122.50 132.99 123.48 132.80 Z" fill="#82a8e7"/>
<path d="M127.31 140.82 C127.76 140.92 128.23 142.29 128.49 143.76 C128.74 145.23 128.82 146.79 128.58 148.16 C128.35 149.54 127.78 150.71 127.31 150.61 C126.84 150.51 126.44 149.14 126.23 147.68 C126.01 146.21 126.01 144.64 126.23 143.27 C126.44 141.90 126.86 140.72 127.31 140.82 Z" fill="#7092de"/>
<path d="M127.50 144.25 C127.84 144.25 128.39 145.01 128.39 145.52 C128.39 146.03 127.84 146.79 127.50 146.79 C127.17 146.79 126.72 146.03 126.72 145.52 C126.72 145.01 127.17 144.25 127.50 144.25 Z" fill="#4152ca"/>
</g>
<path d="M258.7 86.0 L254.0 90.1 L250.8 94.7 L249.4 98.3 L249.4 104.8 L250.4 109.4 L252.2 112.6 L251.7 115.3 L248.5 117.6 L243.0 119.4 L242.3 121.0 L241.8 123.5 L240.6 125.0 L235.0 127.0 L234.6 126.3 L239.2 124.3 L239.6 121.2 L237.5 120.6 L234.6 120.6 L234.0 119.6 L234.8 119.0 L234.6 116.7 L232.0 115.8 L228.8 116.5 L226.1 114.9 L221.9 112.1 L220.6 109.4 L221.9 106.6 L221.5 102.9 L221.9 99.3 L220.1 96.5 L219.2 92.8 L221.0 89.6 L224.2 87.3 L225.1 83.7 L227.0 80.0 L227.2 77.0 L226.0 72.5 L224.9 69.5 L222.4 66.5 L218.3 63.4 L213.3 61.4 L208.8 59.9 L207.7 58.4 L209.8 56.4 L211.1 53.8 L210.8 50.8 L211.5 47.3 L212.1 43.8 L213.1 42.2 L212.5 39.7 L210.8 37.7 L210.5 34.7 L209.8 30.6 L207.2 30.1 L206.4 32.2 L204.7 33.2 L202.7 31.6 L201.7 29.1 L200.7 30.1 L199.7 27.6 L196.6 27.6 L193.1 26.9 L191.6 24.6 L190.1 23.6 L189.6 27.9 L180.0 28.6 L160.0 30.2 L145.0 31.9 L139.0 32.8 L133.5 34.6 L133.3 38.8 L134.4 40.6 L138.6 41.5 L140.0 43.3 L139.0 47.9 L140.0 51.6 L141.3 54.4 L140.4 58.0 L138.1 60.3 L133.5 60.3 L131.2 59.4 L129.4 60.3 L128.5 62.6 L127.1 62.6 L126.2 60.3 L125.3 58.0 L121.6 57.1 L119.8 58.5 L117.0 61.7 L110.6 70.8 L111.0 72.0 L113.4 71.6 L114.3 73.3 L115.5 76.6 L114.7 79.9 L112.6 81.1 L109.7 80.3 L108.1 78.2 L106.4 76.1 L104.6 76.2 L102.6 77.8 L102.2 79.8 L102.7 81.9 L100.2 85.9 L101.2 88.3 L101.9 90.4 L100.3 91.9 L98.2 92.8 L96.3 95.0 L92.0 101.3 L90.7 100.9 L89.5 98.4 L88.7 99.7 L89.1 104.6 L89.3 111.4 L88.6 116.9 L88.9 121.1 L90.3 125.2 L92.6 128.9 L96.2 130.2 L101.3 130.7 L104.5 131.6 L105.4 133.9 L106.8 135.3 L109.5 136.7 L111.4 135.7 L113.7 134.8 L114.1 137.1 L113.7 140.8 L114.5 144.0 L115.9 146.3 L117.8 148.1 L119.6 149.0 L121.3 150.5 L122.8 152.5 L123.5 155.8 L124.3 158.4 L125.4 160.2 L126.8 162.1 L127.2 163.5 L126.5 165.4 L125.4 167.6 L125.0 168.3 L124.6 165.7 L125.0 163.5 L124.3 162.1 L122.8 161.3 L122.1 162.8 L122.1 165.4 L121.0 166.5 L119.1 166.5 L117.6 165.4 L118.0 164.2 L116.5 163.9 L114.7 164.2 L112.5 163.5 L110.3 163.5 L108.1 162.8 L105.1 161.7 L102.5 161.1 L99.5 163.2 L98.4 164.8 L96.8 163.7 L95.1 162.1 L93.4 163.2 L91.8 164.3 L90.2 164.8 L88.5 166.5 L86.8 168.1 L85.2 165.9 L83.0 163.2 L78.0 160.4 L73.6 158.8 L71.4 157.1 L69.2 154.7 L66.5 156.0 L62.1 158.8 L60.4 162.6 L60.4 168.7 L52.7 168.7 L52.5 173.1 L61.0 174.2 L62.1 178.0 L62.4 183.0 L51.6 185.6 L67.0 186.8 L67.6 189.0 L66.5 193.5 L64.3 196.8 L59.9 199.5 L56.5 201.9 L55.6 206.0 L55.8 211.5 L56.9 217.9 L59.2 224.4 L63.3 222.5 L67.0 222.1 L71.6 224.4 L71.6 228.0 L71.1 232.6 L72.5 230.8 L73.9 225.3 L75.3 220.2 L77.6 218.9 L79.9 220.7 L81.2 222.5 L80.3 228.0 L78.5 233.5 L78.0 237.2 L79.4 240.9 L79.9 242.2" fill="none" stroke="#7a7a7a" stroke-width="0.6" stroke-linejoin="round"/>
<ellipse cx="114.8" cy="213.0" rx="2.1" ry="4.4" transform="rotate(12 114.8 213.0)" fill="#fff" stroke="#7a7a7a" stroke-width="0.6"/>
<ellipse cx="224.8" cy="124.1" rx="3.2" ry="1.8" transform="rotate(35 224.8 124.1)" fill="#fff" stroke="#7a7a7a" stroke-width="0.6"/>
<path d="M27.2 16.1 H259.3" stroke="#d6d6d6" stroke-width="1.2"/>
<path d="M258.7 15.7 V242.2" stroke="#bdbdbd" stroke-width="1.2"/>
<path d="M27.7 15.7 V242.2" stroke="#bcbcbc" stroke-width="1.1"/>
<path d="M27.2 242.1 H259.3" stroke="#9a9a9a" stroke-width="1.1"/>
<path d="M27.7 242.20 h-1.6 M27.7 238.59 h-0.9 M27.7 234.98 h-0.9 M27.7 231.38 h-0.9 M27.7 227.77 h-0.9 M27.7 224.16 h-1.6 M27.7 220.55 h-0.9 M27.7 216.94 h-0.9 M27.7 213.34 h-0.9 M27.7 209.73 h-0.9 M27.7 206.12 h-1.6 M27.7 202.51 h-0.9 M27.7 198.90 h-0.9 M27.7 195.30 h-0.9 M27.7 191.69 h-0.9 M27.7 188.08 h-1.6 M27.7 184.47 h-0.9 M27.7 180.86 h-0.9 M27.7 177.26 h-0.9 M27.7 173.65 h-0.9 M27.7 170.04 h-1.6 M27.7 166.43 h-0.9 M27.7 162.82 h-0.9 M27.7 159.22 h-0.9 M27.7 155.61 h-0.9 M27.7 152.00 h-1.6 M27.7 148.39 h-0.9 M27.7 144.78 h-0.9 M27.7 141.18 h-0.9 M27.7 137.57 h-0.9 M27.7 133.96 h-1.6 M27.7 130.35 h-0.9 M27.7 126.74 h-0.9 M27.7 123.14 h-0.9 M27.7 119.53 h-0.9 M27.7 115.92 h-1.6 M27.7 112.31 h-0.9 M27.7 108.70 h-0.9 M27.7 105.10 h-0.9 M27.7 101.49 h-0.9 M27.7 97.88 h-1.6 M27.7 94.27 h-0.9 M27.7 90.66 h-0.9 M27.7 87.06 h-0.9 M27.7 83.45 h-0.9 M27.7 79.84 h-1.6 M27.7 76.23 h-0.9 M27.7 72.62 h-0.9 M27.7 69.02 h-0.9 M27.7 65.41 h-0.9 M27.7 61.80 h-1.6 M27.7 58.19 h-0.9 M27.7 54.58 h-0.9 M27.7 50.98 h-0.9 M27.7 47.37 h-0.9 M27.7 43.76 h-1.6 M27.7 40.15 h-0.9 M27.7 36.54 h-0.9 M27.7 32.94 h-0.9 M27.7 29.33 h-0.9 M27.7 25.72 h-1.6 M27.7 22.11 h-0.9 M27.7 18.50 h-0.9 M27.70 242.1 v-1.6 M32.23 242.1 v-0.9 M36.76 242.1 v-0.9 M41.29 242.1 v-0.9 M45.82 242.1 v-0.9 M50.35 242.1 v-0.9 M54.88 242.1 v-0.9 M59.41 242.1 v-0.9 M63.94 242.1 v-0.9 M68.47 242.1 v-0.9 M73.00 242.1 v-1.6 M77.53 242.1 v-0.9 M82.06 242.1 v-0.9 M86.59 242.1 v-0.9 M91.12 242.1 v-0.9 M95.65 242.1 v-0.9 M100.18 242.1 v-0.9 M104.71 242.1 v-0.9 M109.24 242.1 v-0.9 M113.77 242.1 v-0.9 M118.30 242.1 v-1.6 M122.83 242.1 v-0.9 M127.36 242.1 v-0.9 M131.89 242.1 v-0.9 M136.42 242.1 v-0.9 M140.95 242.1 v-0.9 M145.48 242.1 v-0.9 M150.01 242.1 v-0.9 M154.54 242.1 v-0.9 M159.07 242.1 v-0.9 M163.60 242.1 v-1.6 M168.13 242.1 v-0.9 M172.66 242.1 v-0.9 M177.19 242.1 v-0.9 M181.72 242.1 v-0.9 M186.25 242.1 v-0.9 M190.78 242.1 v-0.9 M195.31 242.1 v-0.9 M199.84 242.1 v-0.9 M204.37 242.1 v-0.9 M208.90 242.1 v-1.6 M213.43 242.1 v-0.9 M217.96 242.1 v-0.9 M222.49 242.1 v-0.9 M227.02 242.1 v-0.9 M231.55 242.1 v-0.9 M236.08 242.1 v-0.9 M240.61 242.1 v-0.9 M245.14 242.1 v-0.9 M249.67 242.1 v-0.9 M254.20 242.1 v-1.6" stroke="#777" stroke-width="0.5"/>
<text x="5.10" y="26.75" font-size="5.20" font-family="'Liberation Serif', 'Times New Roman', serif" fill="#3a3a3a" textLength="19.30" lengthAdjust="spacingAndGlyphs" stroke="#3a3a3a" stroke-width="0.06">4,038,000</text><text x="5.10" y="44.79" font-size="5.20" font-family="'Liberation Serif', 'Times New Roman', serif" fill="#3a3a3a" textLength="19.30" lengthAdjust="spacingAndGlyphs" stroke="#3a3a3a" stroke-width="0.06">4,036,000</text><text x="5.10" y="62.83" font-size="5.20" font-family="'Liberation Serif', 'Times New Roman', serif" fill="#3a3a3a" textLength="19.30" lengthAdjust="spacingAndGlyphs" stroke="#3a3a3a" stroke-width="0.06">4,034,000</text><text x="5.10" y="80.87" font-size="5.20" font-family="'Liberation Serif', 'Times New Roman', serif" fill="#3a3a3a" textLength="19.30" lengthAdjust="spacingAndGlyphs" stroke="#3a3a3a" stroke-width="0.06">4,032,000</text><text x="5.10" y="98.91" font-size="5.20" font-family="'Liberation Serif', 'Times New Roman', serif" fill="#3a3a3a" textLength="19.30" lengthAdjust="spacingAndGlyphs" stroke="#3a3a3a" stroke-width="0.06">4,030,000</text><text x="5.10" y="116.95" font-size="5.20" font-family="'Liberation Serif', 'Times New Roman', serif" fill="#3a3a3a" textLength="19.30" lengthAdjust="spacingAndGlyphs" stroke="#3a3a3a" stroke-width="0.06">4,028,000</text><text x="5.10" y="134.99" font-size="5.20" font-family="'Liberation Serif', 'Times New Roman', serif" fill="#3a3a3a" textLength="19.30" lengthAdjust="spacingAndGlyphs" stroke="#3a3a3a" stroke-width="0.06">4,026,000</text><text x="5.10" y="153.03" font-size="5.20" font-family="'Liberation Serif', 'Times New Roman', serif" fill="#3a3a3a" textLength="19.30" lengthAdjust="spacingAndGlyphs" stroke="#3a3a3a" stroke-width="0.06">4,024,000</text><text x="5.10" y="171.07" font-size="5.20" font-family="'Liberation Serif', 'Times New Roman', serif" fill="#3a3a3a" textLength="19.30" lengthAdjust="spacingAndGlyphs" stroke="#3a3a3a" stroke-width="0.06">4,022,000</text><text x="5.10" y="189.11" font-size="5.20" font-family="'Liberation Serif', 'Times New Roman', serif" fill="#3a3a3a" textLength="19.30" lengthAdjust="spacingAndGlyphs" stroke="#3a3a3a" stroke-width="0.06">4,020,000</text><text x="5.10" y="207.15" font-size="5.20" font-family="'Liberation Serif', 'Times New Roman', serif" fill="#3a3a3a" textLength="19.30" lengthAdjust="spacingAndGlyphs" stroke="#3a3a3a" stroke-width="0.06">4,018,000</text><text x="5.10" y="225.19" font-size="5.20" font-family="'Liberation Serif', 'Times New Roman', serif" fill="#3a3a3a" textLength="19.30" lengthAdjust="spacingAndGlyphs" stroke="#3a3a3a" stroke-width="0.06">4,016,000</text><text x="5.10" y="243.23" font-size="5.20" font-family="'Liberation Serif', 'Times New Roman', serif" fill="#3a3a3a" textLength="19.30" lengthAdjust="spacingAndGlyphs" stroke="#3a3a3a" stroke-width="0.06">4,014,000</text><text x="20.60" y="249.60" font-size="5.20" font-family="'Liberation Serif', 'Times New Roman', serif" fill="#3a3a3a" textLength="14.80" lengthAdjust="spacingAndGlyphs" stroke="#3a3a3a" stroke-width="0.06">555,000</text><text x="65.90" y="249.60" font-size="5.20" font-family="'Liberation Serif', 'Times New Roman', serif" fill="#3a3a3a" textLength="14.80" lengthAdjust="spacingAndGlyphs" stroke="#3a3a3a" stroke-width="0.06">560,000</text><text x="111.20" y="249.60" font-size="5.20" font-family="'Liberation Serif', 'Times New Roman', serif" fill="#3a3a3a" textLength="14.80" lengthAdjust="spacingAndGlyphs" stroke="#3a3a3a" stroke-width="0.06">565,000</text><text x="156.50" y="249.60" font-size="5.20" font-family="'Liberation Serif', 'Times New Roman', serif" fill="#3a3a3a" textLength="14.80" lengthAdjust="spacingAndGlyphs" stroke="#3a3a3a" stroke-width="0.06">570,000</text><text x="201.80" y="249.60" font-size="5.20" font-family="'Liberation Serif', 'Times New Roman', serif" fill="#3a3a3a" textLength="14.80" lengthAdjust="spacingAndGlyphs" stroke="#3a3a3a" stroke-width="0.06">575,000</text><text x="247.10" y="249.60" font-size="5.20" font-family="'Liberation Serif', 'Times New Roman', serif" fill="#3a3a3a" textLength="14.80" lengthAdjust="spacingAndGlyphs" stroke="#3a3a3a" stroke-width="0.06">580,000</text>
<text x="7.20" y="12.80" font-size="4.20" font-family="'Liberation Serif', 'Times New Roman', serif" fill="#3a3a3a" textLength="6.00" lengthAdjust="spacingAndGlyphs" stroke="#3a3a3a" stroke-width="0.06">[m]</text>
<text x="253.20" y="253.60" font-size="4.20" font-family="'Liberation Serif', 'Times New Roman', serif" fill="#3a3a3a" textLength="5.80" lengthAdjust="spacingAndGlyphs" stroke="#3a3a3a" stroke-width="0.06">[m]</text>
<text x="37.30" y="25.20" font-size="5.90" font-family="'Liberation Serif', 'Times New Roman', serif" fill="#1a1a1a" font-weight="bold" textLength="17.00" lengthAdjust="spacingAndGlyphs" stroke="#1a1a1a" stroke-width="0.20">Salinity</text>
<text x="56.60" y="25.00" font-size="4.80" font-family="'Liberation Serif', 'Times New Roman', serif" fill="#333" stroke="#333" stroke-width="0.10">(</text>
<text x="58.50" y="25.20" font-size="5.90" font-family="'Liberation Serif', 'Times New Roman', serif" fill="#1a1a1a" font-weight="bold" textLength="12.00" lengthAdjust="spacingAndGlyphs" stroke="#1a1a1a" stroke-width="0.20">PSU</text>
<text x="71.60" y="25.00" font-size="4.80" font-family="'Liberation Serif', 'Times New Roman', serif" fill="#333" stroke="#333" stroke-width="0.10">)</text>
<rect x="36.0" y="28.70" width="9.8" height="4.7" fill="#2c2cb6" stroke="#b4b8c4" stroke-width="0.45"/>
<text x="48.70" y="32.80" font-size="4.80" font-family="'Liberation Sans', Arial, sans-serif" fill="#2a2a2a" stroke="#2a2a2a" stroke-width="0.05">Above</text>
<text x="65.60" y="32.80" font-size="5.30" font-family="'Liberation Serif', 'Times New Roman', serif" fill="#2a2a2a" textLength="9.60" lengthAdjust="spacingAndGlyphs" stroke="#2a2a2a" stroke-width="0.07">33.8</text>
<rect x="36.0" y="34.53" width="9.8" height="4.7" fill="#3434bc" stroke="#b4b8c4" stroke-width="0.45"/>
<text x="50.00" y="38.63" font-size="5.30" font-family="'Liberation Serif', 'Times New Roman', serif" fill="#2a2a2a" textLength="25.20" lengthAdjust="spacingAndGlyphs" stroke="#2a2a2a" stroke-width="0.07">33.4 to 33.8</text>
<rect x="36.0" y="40.36" width="9.8" height="4.7" fill="#3d45c3" stroke="#b4b8c4" stroke-width="0.45"/>
<text x="50.00" y="44.46" font-size="5.30" font-family="'Liberation Serif', 'Times New Roman', serif" fill="#2a2a2a" textLength="25.20" lengthAdjust="spacingAndGlyphs" stroke="#2a2a2a" stroke-width="0.07">33.2 to 33.4</text>
<rect x="36.0" y="46.19" width="9.8" height="4.7" fill="#4b58c9" stroke="#b4b8c4" stroke-width="0.45"/>
<text x="50.00" y="50.29" font-size="5.30" font-family="'Liberation Serif', 'Times New Roman', serif" fill="#2a2a2a" textLength="25.20" lengthAdjust="spacingAndGlyphs" stroke="#2a2a2a" stroke-width="0.07">33.0 to 33.2</text>
<rect x="36.0" y="52.02" width="9.8" height="4.7" fill="#586bd0" stroke="#b4b8c4" stroke-width="0.45"/>
<text x="50.00" y="56.12" font-size="5.30" font-family="'Liberation Serif', 'Times New Roman', serif" fill="#2a2a2a" textLength="25.20" lengthAdjust="spacingAndGlyphs" stroke="#2a2a2a" stroke-width="0.07">32.8 to 33.0</text>
<rect x="36.0" y="57.85" width="9.8" height="4.7" fill="#667ed6" stroke="#b4b8c4" stroke-width="0.45"/>
<text x="50.00" y="61.95" font-size="5.30" font-family="'Liberation Serif', 'Times New Roman', serif" fill="#2a2a2a" textLength="25.20" lengthAdjust="spacingAndGlyphs" stroke="#2a2a2a" stroke-width="0.07">32.6 to 32.8</text>
<rect x="36.0" y="63.68" width="9.8" height="4.7" fill="#728edb" stroke="#b4b8c4" stroke-width="0.45"/>
<text x="50.00" y="67.78" font-size="5.30" font-family="'Liberation Serif', 'Times New Roman', serif" fill="#2a2a2a" textLength="25.20" lengthAdjust="spacingAndGlyphs" stroke="#2a2a2a" stroke-width="0.07">32.4 to 32.6</text>
<rect x="36.0" y="69.51" width="9.8" height="4.7" fill="#7e9ee1" stroke="#b4b8c4" stroke-width="0.45"/>
<text x="50.00" y="73.61" font-size="5.30" font-family="'Liberation Serif', 'Times New Roman', serif" fill="#2a2a2a" textLength="25.20" lengthAdjust="spacingAndGlyphs" stroke="#2a2a2a" stroke-width="0.07">32.2 to 32.4</text>
<rect x="36.0" y="75.34" width="9.8" height="4.7" fill="#8aace6" stroke="#b4b8c4" stroke-width="0.45"/>
<text x="50.00" y="79.44" font-size="5.30" font-family="'Liberation Serif', 'Times New Roman', serif" fill="#2a2a2a" textLength="25.20" lengthAdjust="spacingAndGlyphs" stroke="#2a2a2a" stroke-width="0.07">32.0 to 32.2</text>
<rect x="36.0" y="81.17" width="9.8" height="4.7" fill="#96baec" stroke="#b4b8c4" stroke-width="0.45"/>
<text x="50.00" y="85.27" font-size="5.30" font-family="'Liberation Serif', 'Times New Roman', serif" fill="#2a2a2a" textLength="25.20" lengthAdjust="spacingAndGlyphs" stroke="#2a2a2a" stroke-width="0.07">31.9 to 32.0</text>
<rect x="36.0" y="87.00" width="9.8" height="4.7" fill="#dcecfb" stroke="#b4b8c4" stroke-width="0.45"/>
<text x="50.00" y="91.10" font-size="5.30" font-family="'Liberation Serif', 'Times New Roman', serif" fill="#2a2a2a" textLength="25.20" lengthAdjust="spacingAndGlyphs" stroke="#2a2a2a" stroke-width="0.07">31.8 to 31.9</text>
<rect x="36.0" y="92.83" width="9.8" height="4.7" fill="#e8f3fd" stroke="#b4b8c4" stroke-width="0.45"/>
<text x="48.70" y="96.93" font-size="4.80" font-family="'Liberation Sans', Arial, sans-serif" fill="#2a2a2a" stroke="#2a2a2a" stroke-width="0.05">Below</text>
<text x="65.60" y="96.93" font-size="5.30" font-family="'Liberation Serif', 'Times New Roman', serif" fill="#2a2a2a" textLength="9.60" lengthAdjust="spacingAndGlyphs" stroke="#2a2a2a" stroke-width="0.07">31.8</text>
<text x="249.20" y="27.60" font-size="3.00" font-family="'Liberation Sans', Arial, sans-serif" fill="#555">N</text>
<path d="M250.2 29.4 L252.6 38.6 L250.4 36.2 L248.1 38.6 Z" fill="#111"/>
<text x="51.20" y="131.80" font-size="5.40" font-family="'Liberation Serif', 'Times New Roman', serif" fill="#1a1a1a" font-weight="bold" textLength="24.80" lengthAdjust="spacingAndGlyphs" stroke="#1a1a1a" stroke-width="0.18">Aoshanwei</text>
<circle cx="63.6" cy="136.5" r="1.9" fill="#c4c4c4" stroke="#666" stroke-width="0.5"/><circle cx="63.6" cy="136.5" r="0.75" fill="#111"/>
<text x="69.20" y="151.90" font-size="5.40" font-family="'Liberation Serif', 'Times New Roman', serif" fill="#1a1a1a" font-weight="bold" textLength="39.60" lengthAdjust="spacingAndGlyphs" stroke="#1a1a1a" stroke-width="0.18">Desalinator plant</text>
<circle cx="113.1" cy="150.2" r="2.1" fill="#000"/>
<text x="223.30" y="112.70" font-size="5.20" font-family="'Liberation Serif', 'Times New Roman', serif" fill="#1a1a1a" font-weight="bold" textLength="25.70" lengthAdjust="spacingAndGlyphs" stroke="#1a1a1a" stroke-width="0.18">Nvdao Port</text>
<circle cx="49.4" cy="231.4" r="1.9" fill="#c4c4c4" stroke="#666" stroke-width="0.5"/><circle cx="49.4" cy="231.4" r="0.75" fill="#111"/>
<text x="31.50" y="239.80" font-size="5.40" font-family="'Liberation Serif', 'Times New Roman', serif" fill="#1a1a1a" font-weight="bold" textLength="35.80" lengthAdjust="spacingAndGlyphs" stroke="#1a1a1a" stroke-width="0.18">Wanggezhuang</text>
</g>
<g transform="matrix(0.9940 0 0 0.9950 0.666 272.781)">
<clipPath id="seac"><path d="M258.7 86.0 L254.0 90.1 L250.8 94.7 L249.4 98.3 L249.4 104.8 L250.4 109.4 L252.2 112.6 L251.7 115.3 L248.5 117.6 L243.0 119.4 L242.3 121.0 L241.8 123.5 L240.6 125.0 L235.0 127.0 L234.6 126.3 L239.2 124.3 L239.6 121.2 L237.5 120.6 L234.6 120.6 L234.0 119.6 L234.8 119.0 L234.6 116.7 L232.0 115.8 L228.8 116.5 L226.1 114.9 L221.9 112.1 L220.6 109.4 L221.9 106.6 L221.5 102.9 L221.9 99.3 L220.1 96.5 L219.2 92.8 L221.0 89.6 L224.2 87.3 L225.1 83.7 L227.0 80.0 L227.2 77.0 L226.0 72.5 L224.9 69.5 L222.4 66.5 L218.3 63.4 L213.3 61.4 L208.8 59.9 L207.7 58.4 L209.8 56.4 L211.1 53.8 L210.8 50.8 L211.5 47.3 L212.1 43.8 L213.1 42.2 L212.5 39.7 L210.8 37.7 L210.5 34.7 L209.8 30.6 L207.2 30.1 L206.4 32.2 L204.7 33.2 L202.7 31.6 L201.7 29.1 L200.7 30.1 L199.7 27.6 L196.6 27.6 L193.1 26.9 L191.6 24.6 L190.1 23.6 L189.6 27.9 L180.0 28.6 L160.0 30.2 L145.0 31.9 L139.0 32.8 L133.5 34.6 L133.3 38.8 L134.4 40.6 L138.6 41.5 L140.0 43.3 L139.0 47.9 L140.0 51.6 L141.3 54.4 L140.4 58.0 L138.1 60.3 L133.5 60.3 L131.2 59.4 L129.4 60.3 L128.5 62.6 L127.1 62.6 L126.2 60.3 L125.3 58.0 L121.6 57.1 L119.8 58.5 L117.0 61.7 L110.6 70.8 L111.0 72.0 L113.4 71.6 L114.3 73.3 L115.5 76.6 L114.7 79.9 L112.6 81.1 L109.7 80.3 L108.1 78.2 L106.4 76.1 L104.6 76.2 L102.6 77.8 L102.2 79.8 L102.7 81.9 L100.2 85.9 L101.2 88.3 L101.9 90.4 L100.3 91.9 L98.2 92.8 L96.3 95.0 L92.0 101.3 L90.7 100.9 L89.5 98.4 L88.7 99.7 L89.1 104.6 L89.3 111.4 L88.6 116.9 L88.9 121.1 L90.3 125.2 L92.6 128.9 L96.2 130.2 L101.3 130.7 L104.5 131.6 L105.4 133.9 L106.8 135.3 L109.5 136.7 L111.4 135.7 L113.7 134.8 L114.1 137.1 L113.7 140.8 L114.5 144.0 L115.9 146.3 L117.8 148.1 L119.6 149.0 L121.3 150.5 L122.8 152.5 L123.5 155.8 L124.3 158.4 L125.4 160.2 L126.8 162.1 L127.2 163.5 L126.5 165.4 L125.4 167.6 L125.0 168.3 L124.6 165.7 L125.0 163.5 L124.3 162.1 L122.8 161.3 L122.1 162.8 L122.1 165.4 L121.0 166.5 L119.1 166.5 L117.6 165.4 L118.0 164.2 L116.5 163.9 L114.7 164.2 L112.5 163.5 L110.3 163.5 L108.1 162.8 L105.1 161.7 L102.5 161.1 L99.5 163.2 L98.4 164.8 L96.8 163.7 L95.1 162.1 L93.4 163.2 L91.8 164.3 L90.2 164.8 L88.5 166.5 L86.8 168.1 L85.2 165.9 L83.0 163.2 L78.0 160.4 L73.6 158.8 L71.4 157.1 L69.2 154.7 L66.5 156.0 L62.1 158.8 L60.4 162.6 L60.4 168.7 L52.7 168.7 L52.5 173.1 L61.0 174.2 L62.1 178.0 L62.4 183.0 L51.6 185.6 L67.0 186.8 L67.6 189.0 L66.5 193.5 L64.3 196.8 L59.9 199.5 L56.5 201.9 L55.6 206.0 L55.8 211.5 L56.9 217.9 L59.2 224.4 L63.3 222.5 L67.0 222.1 L71.6 224.4 L71.6 228.0 L71.1 232.6 L72.5 230.8 L73.9 225.3 L75.3 220.2 L77.6 218.9 L79.9 220.7 L81.2 222.5 L80.3 228.0 L78.5 233.5 L78.0 237.2 L79.4 240.9 L79.9 242.2 L258.7 242.2 Z"/></clipPath>
<rect x="27.7" y="16.3" width="231.0" height="225.9" fill="#fff"/>
<path d="M258.7 86.0 L254.0 90.1 L250.8 94.7 L249.4 98.3 L249.4 104.8 L250.4 109.4 L252.2 112.6 L251.7 115.3 L248.5 117.6 L243.0 119.4 L242.3 121.0 L241.8 123.5 L240.6 125.0 L235.0 127.0 L234.6 126.3 L239.2 124.3 L239.6 121.2 L237.5 120.6 L234.6 120.6 L234.0 119.6 L234.8 119.0 L234.6 116.7 L232.0 115.8 L228.8 116.5 L226.1 114.9 L221.9 112.1 L220.6 109.4 L221.9 106.6 L221.5 102.9 L221.9 99.3 L220.1 96.5 L219.2 92.8 L221.0 89.6 L224.2 87.3 L225.1 83.7 L227.0 80.0 L227.2 77.0 L226.0 72.5 L224.9 69.5 L222.4 66.5 L218.3 63.4 L213.3 61.4 L208.8 59.9 L207.7 58.4 L209.8 56.4 L211.1 53.8 L210.8 50.8 L211.5 47.3 L212.1 43.8 L213.1 42.2 L212.5 39.7 L210.8 37.7 L210.5 34.7 L209.8 30.6 L207.2 30.1 L206.4 32.2 L204.7 33.2 L202.7 31.6 L201.7 29.1 L200.7 30.1 L199.7 27.6 L196.6 27.6 L193.1 26.9 L191.6 24.6 L190.1 23.6 L189.6 27.9 L180.0 28.6 L160.0 30.2 L145.0 31.9 L139.0 32.8 L133.5 34.6 L133.3 38.8 L134.4 40.6 L138.6 41.5 L140.0 43.3 L139.0 47.9 L140.0 51.6 L141.3 54.4 L140.4 58.0 L138.1 60.3 L133.5 60.3 L131.2 59.4 L129.4 60.3 L128.5 62.6 L127.1 62.6 L126.2 60.3 L125.3 58.0 L121.6 57.1 L119.8 58.5 L117.0 61.7 L110.6 70.8 L111.0 72.0 L113.4 71.6 L114.3 73.3 L115.5 76.6 L114.7 79.9 L112.6 81.1 L109.7 80.3 L108.1 78.2 L106.4 76.1 L104.6 76.2 L102.6 77.8 L102.2 79.8 L102.7 81.9 L100.2 85.9 L101.2 88.3 L101.9 90.4 L100.3 91.9 L98.2 92.8 L96.3 95.0 L92.0 101.3 L90.7 100.9 L89.5 98.4 L88.7 99.7 L89.1 104.6 L89.3 111.4 L88.6 116.9 L88.9 121.1 L90.3 125.2 L92.6 128.9 L96.2 130.2 L101.3 130.7 L104.5 131.6 L105.4 133.9 L106.8 135.3 L109.5 136.7 L111.4 135.7 L113.7 134.8 L114.1 137.1 L113.7 140.8 L114.5 144.0 L115.9 146.3 L117.8 148.1 L119.6 149.0 L121.3 150.5 L122.8 152.5 L123.5 155.8 L124.3 158.4 L125.4 160.2 L126.8 162.1 L127.2 163.5 L126.5 165.4 L125.4 167.6 L125.0 168.3 L124.6 165.7 L125.0 163.5 L124.3 162.1 L122.8 161.3 L122.1 162.8 L122.1 165.4 L121.0 166.5 L119.1 166.5 L117.6 165.4 L118.0 164.2 L116.5 163.9 L114.7 164.2 L112.5 163.5 L110.3 163.5 L108.1 162.8 L105.1 161.7 L102.5 161.1 L99.5 163.2 L98.4 164.8 L96.8 163.7 L95.1 162.1 L93.4 163.2 L91.8 164.3 L90.2 164.8 L88.5 166.5 L86.8 168.1 L85.2 165.9 L83.0 163.2 L78.0 160.4 L73.6 158.8 L71.4 157.1 L69.2 154.7 L66.5 156.0 L62.1 158.8 L60.4 162.6 L60.4 168.7 L52.7 168.7 L52.5 173.1 L61.0 174.2 L62.1 178.0 L62.4 183.0 L51.6 185.6 L67.0 186.8 L67.6 189.0 L66.5 193.5 L64.3 196.8 L59.9 199.5 L56.5 201.9 L55.6 206.0 L55.8 211.5 L56.9 217.9 L59.2 224.4 L63.3 222.5 L67.0 222.1 L71.6 224.4 L71.6 228.0 L71.1 232.6 L72.5 230.8 L73.9 225.3 L75.3 220.2 L77.6 218.9 L79.9 220.7 L81.2 222.5 L80.3 228.0 L78.5 233.5 L78.0 237.2 L79.4 240.9 L79.9 242.2 L258.7 242.2 Z" fill="#dfeefc"/>
<g clip-path="url(#seac)">
<path d="M113.01 69.57 C115.63 70.13 116.63 69.47 119.05 70.37 C121.46 71.27 122.87 72.34 125.08 74.09 C127.30 75.84 128.30 77.00 130.11 79.11 C131.93 81.22 132.67 82.33 134.14 84.64 C135.61 86.95 136.39 88.06 137.46 90.67 C138.52 93.28 138.89 94.69 139.47 97.71 C140.05 100.72 140.34 102.33 140.38 105.75 C140.42 109.16 140.26 111.17 139.67 114.79 C139.09 118.41 138.52 120.42 137.46 123.84 C136.39 127.25 135.51 128.96 134.34 131.88 C133.17 134.79 131.97 136.00 131.62 138.41 C131.28 140.82 132.03 141.43 132.63 143.94 C133.23 146.45 134.04 147.96 134.64 150.97 C135.25 153.99 135.59 156.00 135.65 159.01 C135.71 162.03 135.65 163.64 134.94 166.05 C134.24 168.46 133.60 169.16 132.13 171.07 C130.66 172.98 129.61 174.09 127.60 175.60 C125.59 177.10 124.08 178.21 122.07 178.61 C120.05 179.01 119.15 178.51 117.54 177.61 C115.93 176.70 114.72 175.60 114.02 174.09 C113.31 172.58 114.82 175.29 114.02 170.07 C113.21 164.84 116.83 157.41 109.99 147.96 C103.15 138.51 84.84 133.89 79.81 122.83 C74.78 111.78 81.82 102.13 84.84 92.68 C87.86 83.23 90.68 80.62 94.90 75.60 C99.13 70.57 102.35 68.76 105.97 67.56 C109.59 66.35 110.40 69.00 113.01 69.57 Z" fill="#e5f1fd"/>
<path d="M114.72 71.78 C116.71 72.40 116.37 72.26 117.94 73.18 C119.51 74.11 120.80 74.93 122.57 76.40 C124.34 77.87 125.31 78.87 126.79 80.52 C128.28 82.17 128.83 82.89 130.01 84.64 C131.20 86.39 131.62 87.23 132.73 89.26 C133.84 91.29 134.72 92.58 135.55 94.79 C136.37 97.00 136.39 97.93 136.85 100.32 C137.32 102.71 137.72 104.26 137.86 106.75 C138.00 109.24 137.82 110.97 137.56 112.78 C137.30 114.59 137.16 113.77 136.55 115.80 C135.95 117.83 135.45 119.88 134.54 122.93 C133.64 125.99 133.03 128.22 132.03 131.07 C131.02 133.93 130.24 135.38 129.51 137.20 C128.79 139.03 128.40 138.81 128.40 140.22 C128.40 141.63 128.99 142.41 129.51 144.24 C130.03 146.07 130.38 147.42 131.02 149.37 C131.66 151.32 132.25 152.06 132.73 153.99 C133.21 155.92 133.45 156.96 133.43 159.01 C133.41 161.06 133.21 162.31 132.63 164.24 C132.05 166.17 131.60 166.89 130.52 168.66 C129.43 170.43 128.46 171.68 127.20 173.08 C125.93 174.49 125.53 175.03 124.18 175.70 C122.83 176.36 121.78 176.62 120.46 176.40 C119.13 176.18 118.42 175.48 117.54 174.59 C116.65 173.71 116.11 172.88 116.03 171.98 C115.95 171.07 116.25 170.67 117.14 170.07 C118.02 169.47 119.19 169.33 120.46 168.96 C121.72 168.60 122.59 168.62 123.47 168.26 C124.36 167.90 127.58 171.21 124.88 167.15 C122.19 163.09 119.01 156.82 109.99 147.96 C100.98 139.09 84.84 133.89 79.81 122.83 C74.78 111.78 81.82 101.73 84.84 92.68 C87.86 83.64 90.28 82.13 94.90 77.61 C99.53 73.08 104.02 71.23 107.98 70.07 C111.95 68.90 112.73 71.15 114.72 71.78 Z" fill="#97c0ef"/>
<path d="M84.84 128.86 C86.85 128.10 92.07 127.44 94.90 126.05 C97.74 124.66 97.00 123.05 99.03 121.93 C101.06 120.80 102.23 120.42 105.06 120.42 C107.90 120.42 110.36 120.80 113.21 121.93 C116.07 123.05 117.32 124.22 119.35 126.05 C121.38 127.88 121.97 128.84 123.37 131.07 C124.78 133.31 125.49 134.77 126.39 137.20 C127.30 139.64 127.30 140.60 127.90 143.23 C128.50 145.87 129.01 147.82 129.41 150.37 C129.81 152.92 129.85 154.13 129.91 156.00 C129.97 157.87 130.05 157.79 129.71 159.72 C129.37 161.65 128.83 164.08 128.20 165.65 C127.58 167.21 128.22 170.09 126.59 167.56 C124.96 165.02 123.37 158.91 120.05 152.98 C116.73 147.05 117.04 142.53 109.99 137.91 C102.95 133.28 89.87 131.68 84.84 129.87 C79.81 128.06 82.83 129.63 84.84 128.86 Z" fill="#8ab2ea"/>
<path d="M113.01 129.87 C113.66 128.90 113.76 129.81 115.23 131.07 C116.69 132.34 118.52 133.97 120.36 136.20 C122.19 138.43 123.27 139.80 124.38 142.23 C125.49 144.66 125.45 145.81 125.89 148.36 C126.33 150.91 126.65 152.46 126.59 154.99 C126.53 157.53 126.39 160.82 125.59 161.02 C124.78 161.22 124.28 159.01 122.57 156.00 C120.86 152.98 119.15 149.97 117.04 145.95 C114.92 141.93 112.81 139.11 112.01 135.90 C111.20 132.68 112.37 130.83 113.01 129.87 Z" fill="#82a8e7"/>
<path d="M122.57 141.43 C123.11 141.43 124.08 143.03 124.58 144.44 C125.08 145.85 125.18 147.15 125.08 148.46 C124.98 149.77 124.62 150.97 124.08 150.97 C123.54 150.97 122.81 149.77 122.37 148.46 C121.93 147.15 121.82 145.85 121.86 144.44 C121.91 143.03 122.03 141.43 122.57 141.43 Z" fill="#7092de"/>
<path d="M123.88 144.94 C124.22 144.94 124.78 145.73 124.78 146.25 C124.78 146.77 124.22 147.56 123.88 147.56 C123.54 147.56 123.07 146.77 123.07 146.25 C123.07 145.73 123.54 144.94 123.88 144.94 Z" fill="#4152ca"/>
</g>
<path d="M258.7 86.0 L254.0 90.1 L250.8 94.7 L249.4 98.3 L249.4 104.8 L250.4 109.4 L252.2 112.6 L251.7 115.3 L248.5 117.6 L243.0 119.4 L242.3 121.0 L241.8 123.5 L240.6 125.0 L235.0 127.0 L234.6 126.3 L239.2 124.3 L239.6 121.2 L237.5 120.6 L234.6 120.6 L234.0 119.6 L234.8 119.0 L234.6 116.7 L232.0 115.8 L228.8 116.5 L226.1 114.9 L221.9 112.1 L220.6 109.4 L221.9 106.6 L221.5 102.9 L221.9 99.3 L220.1 96.5 L219.2 92.8 L221.0 89.6 L224.2 87.3 L225.1 83.7 L227.0 80.0 L227.2 77.0 L226.0 72.5 L224.9 69.5 L222.4 66.5 L218.3 63.4 L213.3 61.4 L208.8 59.9 L207.7 58.4 L209.8 56.4 L211.1 53.8 L210.8 50.8 L211.5 47.3 L212.1 43.8 L213.1 42.2 L212.5 39.7 L210.8 37.7 L210.5 34.7 L209.8 30.6 L207.2 30.1 L206.4 32.2 L204.7 33.2 L202.7 31.6 L201.7 29.1 L200.7 30.1 L199.7 27.6 L196.6 27.6 L193.1 26.9 L191.6 24.6 L190.1 23.6 L189.6 27.9 L180.0 28.6 L160.0 30.2 L145.0 31.9 L139.0 32.8 L133.5 34.6 L133.3 38.8 L134.4 40.6 L138.6 41.5 L140.0 43.3 L139.0 47.9 L140.0 51.6 L141.3 54.4 L140.4 58.0 L138.1 60.3 L133.5 60.3 L131.2 59.4 L129.4 60.3 L128.5 62.6 L127.1 62.6 L126.2 60.3 L125.3 58.0 L121.6 57.1 L119.8 58.5 L117.0 61.7 L110.6 70.8 L111.0 72.0 L113.4 71.6 L114.3 73.3 L115.5 76.6 L114.7 79.9 L112.6 81.1 L109.7 80.3 L108.1 78.2 L106.4 76.1 L104.6 76.2 L102.6 77.8 L102.2 79.8 L102.7 81.9 L100.2 85.9 L101.2 88.3 L101.9 90.4 L100.3 91.9 L98.2 92.8 L96.3 95.0 L92.0 101.3 L90.7 100.9 L89.5 98.4 L88.7 99.7 L89.1 104.6 L89.3 111.4 L88.6 116.9 L88.9 121.1 L90.3 125.2 L92.6 128.9 L96.2 130.2 L101.3 130.7 L104.5 131.6 L105.4 133.9 L106.8 135.3 L109.5 136.7 L111.4 135.7 L113.7 134.8 L114.1 137.1 L113.7 140.8 L114.5 144.0 L115.9 146.3 L117.8 148.1 L119.6 149.0 L121.3 150.5 L122.8 152.5 L123.5 155.8 L124.3 158.4 L125.4 160.2 L126.8 162.1 L127.2 163.5 L126.5 165.4 L125.4 167.6 L125.0 168.3 L124.6 165.7 L125.0 163.5 L124.3 162.1 L122.8 161.3 L122.1 162.8 L122.1 165.4 L121.0 166.5 L119.1 166.5 L117.6 165.4 L118.0 164.2 L116.5 163.9 L114.7 164.2 L112.5 163.5 L110.3 163.5 L108.1 162.8 L105.1 161.7 L102.5 161.1 L99.5 163.2 L98.4 164.8 L96.8 163.7 L95.1 162.1 L93.4 163.2 L91.8 164.3 L90.2 164.8 L88.5 166.5 L86.8 168.1 L85.2 165.9 L83.0 163.2 L78.0 160.4 L73.6 158.8 L71.4 157.1 L69.2 154.7 L66.5 156.0 L62.1 158.8 L60.4 162.6 L60.4 168.7 L52.7 168.7 L52.5 173.1 L61.0 174.2 L62.1 178.0 L62.4 183.0 L51.6 185.6 L67.0 186.8 L67.6 189.0 L66.5 193.5 L64.3 196.8 L59.9 199.5 L56.5 201.9 L55.6 206.0 L55.8 211.5 L56.9 217.9 L59.2 224.4 L63.3 222.5 L67.0 222.1 L71.6 224.4 L71.6 228.0 L71.1 232.6 L72.5 230.8 L73.9 225.3 L75.3 220.2 L77.6 218.9 L79.9 220.7 L81.2 222.5 L80.3 228.0 L78.5 233.5 L78.0 237.2 L79.4 240.9 L79.9 242.2" fill="none" stroke="#7a7a7a" stroke-width="0.6" stroke-linejoin="round"/>
<ellipse cx="114.8" cy="213.0" rx="2.1" ry="4.4" transform="rotate(12 114.8 213.0)" fill="#fff" stroke="#7a7a7a" stroke-width="0.6"/>
<ellipse cx="224.8" cy="124.1" rx="3.2" ry="1.8" transform="rotate(35 224.8 124.1)" fill="#fff" stroke="#7a7a7a" stroke-width="0.6"/>
<path d="M27.2 16.1 H259.3" stroke="#d6d6d6" stroke-width="1.2"/>
<path d="M258.7 15.7 V242.2" stroke="#bdbdbd" stroke-width="1.2"/>
<path d="M27.7 15.7 V242.2" stroke="#bcbcbc" stroke-width="1.1"/>
<path d="M27.2 242.1 H259.3" stroke="#9a9a9a" stroke-width="1.1"/>
<path d="M27.7 242.20 h-1.6 M27.7 238.59 h-0.9 M27.7 234.98 h-0.9 M27.7 231.38 h-0.9 M27.7 227.77 h-0.9 M27.7 224.16 h-1.6 M27.7 220.55 h-0.9 M27.7 216.94 h-0.9 M27.7 213.34 h-0.9 M27.7 209.73 h-0.9 M27.7 206.12 h-1.6 M27.7 202.51 h-0.9 M27.7 198.90 h-0.9 M27.7 195.30 h-0.9 M27.7 191.69 h-0.9 M27.7 188.08 h-1.6 M27.7 184.47 h-0.9 M27.7 180.86 h-0.9 M27.7 177.26 h-0.9 M27.7 173.65 h-0.9 M27.7 170.04 h-1.6 M27.7 166.43 h-0.9 M27.7 162.82 h-0.9 M27.7 159.22 h-0.9 M27.7 155.61 h-0.9 M27.7 152.00 h-1.6 M27.7 148.39 h-0.9 M27.7 144.78 h-0.9 M27.7 141.18 h-0.9 M27.7 137.57 h-0.9 M27.7 133.96 h-1.6 M27.7 130.35 h-0.9 M27.7 126.74 h-0.9 M27.7 123.14 h-0.9 M27.7 119.53 h-0.9 M27.7 115.92 h-1.6 M27.7 112.31 h-0.9 M27.7 108.70 h-0.9 M27.7 105.10 h-0.9 M27.7 101.49 h-0.9 M27.7 97.88 h-1.6 M27.7 94.27 h-0.9 M27.7 90.66 h-0.9 M27.7 87.06 h-0.9 M27.7 83.45 h-0.9 M27.7 79.84 h-1.6 M27.7 76.23 h-0.9 M27.7 72.62 h-0.9 M27.7 69.02 h-0.9 M27.7 65.41 h-0.9 M27.7 61.80 h-1.6 M27.7 58.19 h-0.9 M27.7 54.58 h-0.9 M27.7 50.98 h-0.9 M27.7 47.37 h-0.9 M27.7 43.76 h-1.6 M27.7 40.15 h-0.9 M27.7 36.54 h-0.9 M27.7 32.94 h-0.9 M27.7 29.33 h-0.9 M27.7 25.72 h-1.6 M27.7 22.11 h-0.9 M27.7 18.50 h-0.9 M27.70 242.1 v-1.6 M32.23 242.1 v-0.9 M36.76 242.1 v-0.9 M41.29 242.1 v-0.9 M45.82 242.1 v-0.9 M50.35 242.1 v-0.9 M54.88 242.1 v-0.9 M59.41 242.1 v-0.9 M63.94 242.1 v-0.9 M68.47 242.1 v-0.9 M73.00 242.1 v-1.6 M77.53 242.1 v-0.9 M82.06 242.1 v-0.9 M86.59 242.1 v-0.9 M91.12 242.1 v-0.9 M95.65 242.1 v-0.9 M100.18 242.1 v-0.9 M104.71 242.1 v-0.9 M109.24 242.1 v-0.9 M113.77 242.1 v-0.9 M118.30 242.1 v-1.6 M122.83 242.1 v-0.9 M127.36 242.1 v-0.9 M131.89 242.1 v-0.9 M136.42 242.1 v-0.9 M140.95 242.1 v-0.9 M145.48 242.1 v-0.9 M150.01 242.1 v-0.9 M154.54 242.1 v-0.9 M159.07 242.1 v-0.9 M163.60 242.1 v-1.6 M168.13 242.1 v-0.9 M172.66 242.1 v-0.9 M177.19 242.1 v-0.9 M181.72 242.1 v-0.9 M186.25 242.1 v-0.9 M190.78 242.1 v-0.9 M195.31 242.1 v-0.9 M199.84 242.1 v-0.9 M204.37 242.1 v-0.9 M208.90 242.1 v-1.6 M213.43 242.1 v-0.9 M217.96 242.1 v-0.9 M222.49 242.1 v-0.9 M227.02 242.1 v-0.9 M231.55 242.1 v-0.9 M236.08 242.1 v-0.9 M240.61 242.1 v-0.9 M245.14 242.1 v-0.9 M249.67 242.1 v-0.9 M254.20 242.1 v-1.6" stroke="#777" stroke-width="0.5"/>
<text x="5.10" y="26.75" font-size="5.20" font-family="'Liberation Serif', 'Times New Roman', serif" fill="#3a3a3a" textLength="19.30" lengthAdjust="spacingAndGlyphs" stroke="#3a3a3a" stroke-width="0.06">4,038,000</text><text x="5.10" y="44.79" font-size="5.20" font-family="'Liberation Serif', 'Times New Roman', serif" fill="#3a3a3a" textLength="19.30" lengthAdjust="spacingAndGlyphs" stroke="#3a3a3a" stroke-width="0.06">4,036,000</text><text x="5.10" y="62.83" font-size="5.20" font-family="'Liberation Serif', 'Times New Roman', serif" fill="#3a3a3a" textLength="19.30" lengthAdjust="spacingAndGlyphs" stroke="#3a3a3a" stroke-width="0.06">4,034,000</text><text x="5.10" y="80.87" font-size="5.20" font-family="'Liberation Serif', 'Times New Roman', serif" fill="#3a3a3a" textLength="19.30" lengthAdjust="spacingAndGlyphs" stroke="#3a3a3a" stroke-width="0.06">4,032,000</text><text x="5.10" y="98.91" font-size="5.20" font-family="'Liberation Serif', 'Times New Roman', serif" fill="#3a3a3a" textLength="19.30" lengthAdjust="spacingAndGlyphs" stroke="#3a3a3a" stroke-width="0.06">4,030,000</text><text x="5.10" y="116.95" font-size="5.20" font-family="'Liberation Serif', 'Times New Roman', serif" fill="#3a3a3a" textLength="19.30" lengthAdjust="spacingAndGlyphs" stroke="#3a3a3a" stroke-width="0.06">4,028,000</text><text x="5.10" y="134.99" font-size="5.20" font-family="'Liberation Serif', 'Times New Roman', serif" fill="#3a3a3a" textLength="19.30" lengthAdjust="spacingAndGlyphs" stroke="#3a3a3a" stroke-width="0.06">4,026,000</text><text x="5.10" y="153.03" font-size="5.20" font-family="'Liberation Serif', 'Times New Roman', serif" fill="#3a3a3a" textLength="19.30" lengthAdjust="spacingAndGlyphs" stroke="#3a3a3a" stroke-width="0.06">4,024,000</text><text x="5.10" y="171.07" font-size="5.20" font-family="'Liberation Serif', 'Times New Roman', serif" fill="#3a3a3a" textLength="19.30" lengthAdjust="spacingAndGlyphs" stroke="#3a3a3a" stroke-width="0.06">4,022,000</text><text x="5.10" y="189.11" font-size="5.20" font-family="'Liberation Serif', 'Times New Roman', serif" fill="#3a3a3a" textLength="19.30" lengthAdjust="spacingAndGlyphs" stroke="#3a3a3a" stroke-width="0.06">4,020,000</text><text x="5.10" y="207.15" font-size="5.20" font-family="'Liberation Serif', 'Times New Roman', serif" fill="#3a3a3a" textLength="19.30" lengthAdjust="spacingAndGlyphs" stroke="#3a3a3a" stroke-width="0.06">4,018,000</text><text x="5.10" y="225.19" font-size="5.20" font-family="'Liberation Serif', 'Times New Roman', serif" fill="#3a3a3a" textLength="19.30" lengthAdjust="spacingAndGlyphs" stroke="#3a3a3a" stroke-width="0.06">4,016,000</text><text x="5.10" y="243.23" font-size="5.20" font-family="'Liberation Serif', 'Times New Roman', serif" fill="#3a3a3a" textLength="19.30" lengthAdjust="spacingAndGlyphs" stroke="#3a3a3a" stroke-width="0.06">4,014,000</text><text x="20.60" y="249.60" font-size="5.20" font-family="'Liberation Serif', 'Times New Roman', serif" fill="#3a3a3a" textLength="14.80" lengthAdjust="spacingAndGlyphs" stroke="#3a3a3a" stroke-width="0.06">555,000</text><text x="65.90" y="249.60" font-size="5.20" font-family="'Liberation Serif', 'Times New Roman', serif" fill="#3a3a3a" textLength="14.80" lengthAdjust="spacingAndGlyphs" stroke="#3a3a3a" stroke-width="0.06">560,000</text><text x="111.20" y="249.60" font-size="5.20" font-family="'Liberation Serif', 'Times New Roman', serif" fill="#3a3a3a" textLength="14.80" lengthAdjust="spacingAndGlyphs" stroke="#3a3a3a" stroke-width="0.06">565,000</text><text x="156.50" y="249.60" font-size="5.20" font-family="'Liberation Serif', 'Times New Roman', serif" fill="#3a3a3a" textLength="14.80" lengthAdjust="spacingAndGlyphs" stroke="#3a3a3a" stroke-width="0.06">570,000</text><text x="201.80" y="249.60" font-size="5.20" font-family="'Liberation Serif', 'Times New Roman', serif" fill="#3a3a3a" textLength="14.80" lengthAdjust="spacingAndGlyphs" stroke="#3a3a3a" stroke-width="0.06">575,000</text><text x="247.10" y="249.60" font-size="5.20" font-family="'Liberation Serif', 'Times New Roman', serif" fill="#3a3a3a" textLength="14.80" lengthAdjust="spacingAndGlyphs" stroke="#3a3a3a" stroke-width="0.06">580,000</text>
<text x="7.20" y="12.80" font-size="4.20" font-family="'Liberation Serif', 'Times New Roman', serif" fill="#3a3a3a" textLength="6.00" lengthAdjust="spacingAndGlyphs" stroke="#3a3a3a" stroke-width="0.06">[m]</text>
<text x="253.20" y="253.60" font-size="4.20" font-family="'Liberation Serif', 'Times New Roman', serif" fill="#3a3a3a" textLength="5.80" lengthAdjust="spacingAndGlyphs" stroke="#3a3a3a" stroke-width="0.06">[m]</text>
<text x="37.30" y="25.20" font-size="5.90" font-family="'Liberation Serif', 'Times New Roman', serif" fill="#1a1a1a" font-weight="bold" textLength="17.00" lengthAdjust="spacingAndGlyphs" stroke="#1a1a1a" stroke-width="0.20">Salinity</text>
<text x="56.60" y="25.00" font-size="4.80" font-family="'Liberation Serif', 'Times New Roman', serif" fill="#333" stroke="#333" stroke-width="0.10">(</text>
<text x="58.50" y="25.20" font-size="5.90" font-family="'Liberation Serif', 'Times New Roman', serif" fill="#1a1a1a" font-weight="bold" textLength="12.00" lengthAdjust="spacingAndGlyphs" stroke="#1a1a1a" stroke-width="0.20">PSU</text>
<text x="71.60" y="25.00" font-size="4.80" font-family="'Liberation Serif', 'Times New Roman', serif" fill="#333" stroke="#333" stroke-width="0.10">)</text>
<rect x="36.0" y="28.70" width="9.8" height="4.7" fill="#2c2cb6" stroke="#b4b8c4" stroke-width="0.45"/>
<text x="48.70" y="32.80" font-size="4.80" font-family="'Liberation Sans', Arial, sans-serif" fill="#2a2a2a" stroke="#2a2a2a" stroke-width="0.05">Above</text>
<text x="65.60" y="32.80" font-size="5.30" font-family="'Liberation Serif', 'Times New Roman', serif" fill="#2a2a2a" textLength="9.60" lengthAdjust="spacingAndGlyphs" stroke="#2a2a2a" stroke-width="0.07">33.8</text>
<rect x="36.0" y="34.53" width="9.8" height="4.7" fill="#3434bc" stroke="#b4b8c4" stroke-width="0.45"/>
<text x="50.00" y="38.63" font-size="5.30" font-family="'Liberation Serif', 'Times New Roman', serif" fill="#2a2a2a" textLength="25.20" lengthAdjust="spacingAndGlyphs" stroke="#2a2a2a" stroke-width="0.07">33.4 to 33.8</text>
<rect x="36.0" y="40.36" width="9.8" height="4.7" fill="#3d45c3" stroke="#b4b8c4" stroke-width="0.45"/>
<text x="50.00" y="44.46" font-size="5.30" font-family="'Liberation Serif', 'Times New Roman', serif" fill="#2a2a2a" textLength="25.20" lengthAdjust="spacingAndGlyphs" stroke="#2a2a2a" stroke-width="0.07">33.2 to 33.4</text>
<rect x="36.0" y="46.19" width="9.8" height="4.7" fill="#4b58c9" stroke="#b4b8c4" stroke-width="0.45"/>
<text x="50.00" y="50.29" font-size="5.30" font-family="'Liberation Serif', 'Times New Roman', serif" fill="#2a2a2a" textLength="25.20" lengthAdjust="spacingAndGlyphs" stroke="#2a2a2a" stroke-width="0.07">33.0 to 33.2</text>
<rect x="36.0" y="52.02" width="9.8" height="4.7" fill="#586bd0" stroke="#b4b8c4" stroke-width="0.45"/>
<text x="50.00" y="56.12" font-size="5.30" font-family="'Liberation Serif', 'Times New Roman', serif" fill="#2a2a2a" textLength="25.20" lengthAdjust="spacingAndGlyphs" stroke="#2a2a2a" stroke-width="0.07">32.8 to 33.0</text>
<rect x="36.0" y="57.85" width="9.8" height="4.7" fill="#667ed6" stroke="#b4b8c4" stroke-width="0.45"/>
<text x="50.00" y="61.95" font-size="5.30" font-family="'Liberation Serif', 'Times New Roman', serif" fill="#2a2a2a" textLength="25.20" lengthAdjust="spacingAndGlyphs" stroke="#2a2a2a" stroke-width="0.07">32.6 to 32.8</text>
<rect x="36.0" y="63.68" width="9.8" height="4.7" fill="#728edb" stroke="#b4b8c4" stroke-width="0.45"/>
<text x="50.00" y="67.78" font-size="5.30" font-family="'Liberation Serif', 'Times New Roman', serif" fill="#2a2a2a" textLength="25.20" lengthAdjust="spacingAndGlyphs" stroke="#2a2a2a" stroke-width="0.07">32.4 to 32.6</text>
<rect x="36.0" y="69.51" width="9.8" height="4.7" fill="#7e9ee1" stroke="#b4b8c4" stroke-width="0.45"/>
<text x="50.00" y="73.61" font-size="5.30" font-family="'Liberation Serif', 'Times New Roman', serif" fill="#2a2a2a" textLength="25.20" lengthAdjust="spacingAndGlyphs" stroke="#2a2a2a" stroke-width="0.07">32.2 to 32.4</text>
<rect x="36.0" y="75.34" width="9.8" height="4.7" fill="#8aace6" stroke="#b4b8c4" stroke-width="0.45"/>
<text x="50.00" y="79.44" font-size="5.30" font-family="'Liberation Serif', 'Times New Roman', serif" fill="#2a2a2a" textLength="25.20" lengthAdjust="spacingAndGlyphs" stroke="#2a2a2a" stroke-width="0.07">32.0 to 32.2</text>
<rect x="36.0" y="81.17" width="9.8" height="4.7" fill="#96baec" stroke="#b4b8c4" stroke-width="0.45"/>
<text x="50.00" y="85.27" font-size="5.30" font-family="'Liberation Serif', 'Times New Roman', serif" fill="#2a2a2a" textLength="25.20" lengthAdjust="spacingAndGlyphs" stroke="#2a2a2a" stroke-width="0.07">31.9 to 32.0</text>
<rect x="36.0" y="87.00" width="9.8" height="4.7" fill="#dcecfb" stroke="#b4b8c4" stroke-width="0.45"/>
<text x="50.00" y="91.10" font-size="5.30" font-family="'Liberation Serif', 'Times New Roman', serif" fill="#2a2a2a" textLength="25.20" lengthAdjust="spacingAndGlyphs" stroke="#2a2a2a" stroke-width="0.07">31.8 to 31.9</text>
<rect x="36.0" y="92.83" width="9.8" height="4.7" fill="#e8f3fd" stroke="#b4b8c4" stroke-width="0.45"/>
<text x="48.70" y="96.93" font-size="4.80" font-family="'Liberation Sans', Arial, sans-serif" fill="#2a2a2a" stroke="#2a2a2a" stroke-width="0.05">Below</text>
<text x="65.60" y="96.93" font-size="5.30" font-family="'Liberation Serif', 'Times New Roman', serif" fill="#2a2a2a" textLength="9.60" lengthAdjust="spacingAndGlyphs" stroke="#2a2a2a" stroke-width="0.07">31.8</text>
<text x="249.20" y="27.60" font-size="3.00" font-family="'Liberation Sans', Arial, sans-serif" fill="#555">N</text>
<path d="M250.2 29.4 L252.6 38.6 L250.4 36.2 L248.1 38.6 Z" fill="#111"/>
<text x="51.20" y="133.00" font-size="5.40" font-family="'Liberation Serif', 'Times New Roman', serif" fill="#1a1a1a" font-weight="bold" textLength="24.80" lengthAdjust="spacingAndGlyphs" stroke="#1a1a1a" stroke-width="0.18">Aoshanwei</text>
<circle cx="63.6" cy="137.7" r="1.9" fill="#c4c4c4" stroke="#666" stroke-width="0.5"/><circle cx="63.6" cy="137.7" r="0.75" fill="#111"/>
<text x="69.20" y="153.10" font-size="5.40" font-family="'Liberation Serif', 'Times New Roman', serif" fill="#1a1a1a" font-weight="bold" textLength="39.60" lengthAdjust="spacingAndGlyphs" stroke="#1a1a1a" stroke-width="0.18">Desalinator plant</text>
<circle cx="113.1" cy="151.4" r="2.1" fill="#000"/>
<text x="223.30" y="112.70" font-size="5.20" font-family="'Liberation Serif', 'Times New Roman', serif" fill="#1a1a1a" font-weight="bold" textLength="25.70" lengthAdjust="spacingAndGlyphs" stroke="#1a1a1a" stroke-width="0.18">Nvdao Port</text>
<circle cx="49.4" cy="231.4" r="1.9" fill="#c4c4c4" stroke="#666" stroke-width="0.5"/><circle cx="49.4" cy="231.4" r="0.75" fill="#111"/>
<text x="31.50" y="239.80" font-size="5.40" font-family="'Liberation Serif', 'Times New Roman', serif" fill="#1a1a1a" font-weight="bold" textLength="35.80" lengthAdjust="spacingAndGlyphs" stroke="#1a1a1a" stroke-width="0.18">Wanggezhuang</text>
</g>
<path d="M317.30 469.10 C319.33 469.05 326.25 468.97 329.50 468.80 C332.75 468.63 334.37 468.63 336.80 468.10 C339.23 467.57 341.67 466.40 344.10 465.60 C346.53 464.80 348.98 463.85 351.40 463.30 C353.82 462.75 356.17 462.58 358.60 462.30 C361.03 462.02 363.85 461.78 366.00 461.60 C368.15 461.42 369.57 461.50 371.50 461.20 C373.43 460.90 375.52 460.57 377.60 459.80 C379.68 459.03 381.87 458.08 384.00 456.60 C386.13 455.12 388.48 453.12 390.40 450.90 C392.32 448.68 393.92 446.27 395.50 443.30 C397.08 440.33 398.63 437.13 399.90 433.10 C401.17 429.07 402.15 423.98 403.10 419.10 C404.05 414.22 404.90 408.32 405.60 403.80 C406.30 399.28 406.65 396.27 407.30 392.00 C407.95 387.73 408.78 382.78 409.50 378.20 C410.22 373.62 410.93 368.13 411.60 364.50 C412.27 360.87 412.88 356.48 413.50 356.40 C414.12 356.32 414.60 360.37 415.30 364.00 C416.00 367.63 416.83 372.80 417.70 378.20 C418.57 383.60 419.62 390.63 420.50 396.40 C421.38 402.17 422.15 407.62 423.00 412.80 C423.85 417.98 424.88 423.53 425.60 427.50 C426.32 431.47 426.48 433.92 427.30 436.60 C428.12 439.28 429.28 441.32 430.50 443.60 C431.72 445.88 432.80 448.22 434.60 450.30 C436.40 452.38 439.07 454.60 441.30 456.10 C443.53 457.60 445.58 458.37 448.00 459.30 C450.42 460.23 452.85 460.92 455.80 461.70 C458.75 462.48 462.57 463.33 465.70 464.00 C468.83 464.67 471.38 465.23 474.60 465.70 C477.82 466.17 480.77 466.43 485.00 466.80 C489.23 467.17 495.00 467.58 500.00 467.90 C505.00 468.22 510.37 468.47 515.00 468.70 C519.63 468.93 525.67 469.20 527.80 469.30" fill="none" stroke="#6aa5dc" stroke-width="1.1" stroke-linejoin="round"/>
<path d="M317.30 468.20 C318.85 468.18 323.58 468.22 326.60 468.10 C329.62 467.98 332.97 467.93 335.40 467.50 C337.83 467.07 339.02 466.57 341.20 465.50 C343.38 464.43 346.08 462.77 348.50 461.10 C350.92 459.43 353.77 456.80 355.70 455.50 C357.63 454.20 358.40 453.95 360.10 453.30 C361.80 452.65 364.08 452.27 365.90 451.60 C367.72 450.93 369.47 450.27 371.00 449.30 C372.53 448.33 373.68 447.43 375.10 445.80 C376.52 444.17 378.23 441.40 379.50 439.50 C380.77 437.60 381.53 436.53 382.70 434.40 C383.87 432.27 385.48 429.43 386.50 426.70 C387.52 423.97 388.07 422.45 388.80 418.00 C389.53 413.55 390.17 406.33 390.90 400.00 C391.63 393.67 392.27 386.37 393.20 380.00 C394.13 373.63 395.57 366.55 396.50 361.80 C397.43 357.05 398.13 353.92 398.80 351.50 C399.47 349.08 399.93 347.22 400.50 347.30 C401.07 347.38 401.60 348.97 402.20 352.00 C402.80 355.03 403.48 360.23 404.10 365.50 C404.72 370.77 405.37 377.77 405.90 383.60 C406.43 389.43 406.88 395.60 407.30 400.50 C407.72 405.40 407.95 408.33 408.40 413.00 C408.85 417.67 409.52 424.12 410.00 428.50 C410.48 432.88 410.43 435.88 411.30 439.30 C412.17 442.72 413.72 446.20 415.20 449.00 C416.68 451.80 418.32 454.25 420.20 456.10 C422.08 457.95 424.35 459.15 426.50 460.10 C428.65 461.05 431.18 461.33 433.10 461.80 C435.02 462.27 435.68 462.37 438.00 462.90 C440.32 463.43 443.67 464.38 447.00 465.00 C450.33 465.62 453.95 466.15 458.00 466.60 C462.05 467.05 466.80 467.37 471.30 467.70 C475.80 468.03 479.38 468.23 485.00 468.60 C490.62 468.97 497.87 469.48 505.00 469.90 C512.13 470.32 524.00 470.90 527.80 471.10" fill="none" stroke="#60c68c" stroke-width="1.1" stroke-linejoin="round"/>
<path d="M317.30 462.40 C318.13 462.20 320.27 461.52 322.30 461.20 C324.33 460.88 327.48 460.73 329.50 460.50 C331.52 460.27 333.18 460.22 334.40 459.80 C335.62 459.38 335.95 459.25 336.80 458.00 C337.65 456.75 338.53 454.75 339.50 452.30 C340.47 449.85 341.52 446.43 342.60 443.30 C343.68 440.17 344.93 436.70 346.00 433.50 C347.07 430.30 347.95 427.18 349.00 424.10 C350.05 421.02 351.23 417.97 352.30 415.00 C353.37 412.03 354.53 408.80 355.40 406.30 C356.27 403.80 356.87 402.12 357.50 400.00 C358.13 397.88 358.70 396.10 359.20 393.60 C359.70 391.10 360.08 387.97 360.50 385.00 C360.92 382.03 361.28 379.05 361.70 375.80 C362.12 372.55 362.57 368.90 363.00 365.50 C363.43 362.10 363.92 358.82 364.30 355.40 C364.68 351.98 365.00 348.38 365.30 345.00 C365.60 341.62 365.85 337.93 366.10 335.10 C366.35 332.27 366.55 329.80 366.80 328.00 C367.05 326.20 367.23 324.42 367.60 324.30 C367.97 324.18 368.48 325.13 369.00 327.30 C369.52 329.47 370.18 332.60 370.70 337.30 C371.22 342.00 371.67 349.45 372.10 355.50 C372.53 361.55 372.93 367.55 373.30 373.60 C373.67 379.65 373.97 385.28 374.30 391.80 C374.63 398.32 374.98 407.08 375.30 412.70 C375.62 418.32 375.82 421.28 376.20 425.50 C376.58 429.72 377.05 434.22 377.60 438.00 C378.15 441.78 378.65 445.23 379.50 448.20 C380.35 451.17 381.32 453.77 382.70 455.80 C384.08 457.83 385.67 459.20 387.80 460.40 C389.93 461.60 392.95 462.17 395.50 463.00 C398.05 463.83 400.13 464.67 403.10 465.40 C406.07 466.13 409.90 466.88 413.30 467.40 C416.70 467.92 419.72 468.08 423.50 468.50 C427.28 468.92 430.25 469.48 436.00 469.90 C441.75 470.32 449.83 470.72 458.00 471.00 C466.17 471.28 473.37 471.42 485.00 471.60 C496.63 471.78 520.67 472.02 527.80 472.10" fill="none" stroke="#ff6262" stroke-width="1.1" stroke-linejoin="round"/>
<path d="M367.6 313.6 V341.0" stroke="#ff4a4a" stroke-width="1.2" stroke-dasharray="1.0 1.1" fill="none"/>
<path d="M400.5 331.8 V367.2" stroke="#3e9a55" stroke-width="1.2" stroke-dasharray="1.0 1.1" fill="none"/>
<path d="M413.5 337.5 V372.7" stroke="#4646f0" stroke-width="1.2" stroke-dasharray="1.0 1.1" fill="none"/>
<path d="M376.1 454.0 V464.6" stroke="#2626ee" stroke-width="1.3" stroke-dasharray="1.0 0.5" fill="none"/>
<path d="M413.8 461.6 V471.5" stroke="#ff4a4a" stroke-width="1.2" stroke-dasharray="1.0 1.1" fill="none"/>
<path d="M438.0 456.8 V468.5" stroke="#3e9a55" stroke-width="1.2" stroke-dasharray="1.0 1.1" fill="none"/>
<path d="M369.4 312.4 L405.1 306.9 L400.6 330.5 M405.1 306.9 L413.5 336.8 M376.6 466.5 L403.8 481.4 L413.8 472.3 M403.8 481.4 L436.8 471.0" fill="none" stroke="#8a8a8a" stroke-width="0.5"/>
<path d="M317.3 297.4 V495.3 H527.8" fill="none" stroke="#555" stroke-width="0.9"/>
<path d="M317.3 495.30 h-1.6 M317.3 488.71 h-1.6 M317.3 482.13 h-1.6 M317.3 475.54 h-1.6 M317.3 468.95 h-1.6 M317.3 462.37 h-1.6 M317.3 455.78 h-1.6 M317.3 449.19 h-1.6 M317.3 442.60 h-1.6 M317.3 436.02 h-1.6 M317.3 429.43 h-1.6 M317.3 422.84 h-1.6 M317.3 416.26 h-1.6 M317.3 409.67 h-1.6 M317.3 403.08 h-1.6 M317.3 396.50 h-1.6 M317.3 389.91 h-1.6 M317.3 383.32 h-1.6 M317.3 376.73 h-1.6 M317.3 370.15 h-1.6 M317.3 363.56 h-1.6 M317.3 356.97 h-1.6 M317.3 350.39 h-1.6 M317.3 343.80 h-1.6 M317.3 337.21 h-1.6 M317.3 330.62 h-1.6 M317.3 324.04 h-1.6 M317.3 317.45 h-1.6 M317.3 310.86 h-1.6 M317.3 304.28 h-1.6 M317.3 297.69 h-1.6 M317.30 495.3 v-1.5 M325.37 495.3 v-1.5 M333.44 495.3 v-1.5 M341.51 495.3 v-1.5 M349.58 495.3 v-1.5 M357.65 495.3 v-1.5 M365.72 495.3 v-1.5 M373.79 495.3 v-1.5 M381.86 495.3 v-1.5 M389.93 495.3 v-1.5 M398.00 495.3 v-1.5 M406.07 495.3 v-1.5 M414.14 495.3 v-1.5 M422.21 495.3 v-1.5 M430.28 495.3 v-1.5 M438.35 495.3 v-1.5 M446.42 495.3 v-1.5 M454.49 495.3 v-1.5 M462.56 495.3 v-1.5 M470.63 495.3 v-1.5 M478.70 495.3 v-1.5 M486.77 495.3 v-1.5 M494.84 495.3 v-1.5 M502.91 495.3 v-1.5 M510.98 495.3 v-1.5 M519.05 495.3 v-1.5 M527.12 495.3 v-1.5" stroke="#555" stroke-width="0.6"/>
<text x="299.60" y="497.50" font-size="6.50" font-family="'Liberation Serif', 'Times New Roman', serif" fill="#222" textLength="11.00" lengthAdjust="spacingAndGlyphs" stroke="#222" stroke-width="0.18">31.5</text><text x="299.60" y="464.56" font-size="6.50" font-family="'Liberation Serif', 'Times New Roman', serif" fill="#222" textLength="11.00" lengthAdjust="spacingAndGlyphs" stroke="#222" stroke-width="0.18">32.0</text><text x="299.60" y="431.63" font-size="6.50" font-family="'Liberation Serif', 'Times New Roman', serif" fill="#222" textLength="11.00" lengthAdjust="spacingAndGlyphs" stroke="#222" stroke-width="0.18">32.5</text><text x="299.60" y="398.69" font-size="6.50" font-family="'Liberation Serif', 'Times New Roman', serif" fill="#222" textLength="11.00" lengthAdjust="spacingAndGlyphs" stroke="#222" stroke-width="0.18">33.0</text><text x="299.60" y="365.76" font-size="6.50" font-family="'Liberation Serif', 'Times New Roman', serif" fill="#222" textLength="11.00" lengthAdjust="spacingAndGlyphs" stroke="#222" stroke-width="0.18">33.5</text><text x="299.60" y="332.82" font-size="6.50" font-family="'Liberation Serif', 'Times New Roman', serif" fill="#222" textLength="11.00" lengthAdjust="spacingAndGlyphs" stroke="#222" stroke-width="0.18">34.0</text><text x="299.60" y="299.89" font-size="6.50" font-family="'Liberation Serif', 'Times New Roman', serif" fill="#222" textLength="11.00" lengthAdjust="spacingAndGlyphs" stroke="#222" stroke-width="0.18">34.5</text><text x="315.75" y="505.00" font-size="6.50" font-family="'Liberation Serif', 'Times New Roman', serif" fill="#222" textLength="3.10" lengthAdjust="spacingAndGlyphs" stroke="#222" stroke-width="0.18">0</text><text x="353.00" y="505.00" font-size="6.50" font-family="'Liberation Serif', 'Times New Roman', serif" fill="#222" textLength="9.30" lengthAdjust="spacingAndGlyphs" stroke="#222" stroke-width="0.18">500</text><text x="391.80" y="505.00" font-size="6.50" font-family="'Liberation Serif', 'Times New Roman', serif" fill="#222" textLength="12.40" lengthAdjust="spacingAndGlyphs" stroke="#222" stroke-width="0.18">1000</text><text x="432.15" y="505.00" font-size="6.50" font-family="'Liberation Serif', 'Times New Roman', serif" fill="#222" textLength="12.40" lengthAdjust="spacingAndGlyphs" stroke="#222" stroke-width="0.18">1500</text><text x="472.50" y="505.00" font-size="6.50" font-family="'Liberation Serif', 'Times New Roman', serif" fill="#222" textLength="12.40" lengthAdjust="spacingAndGlyphs" stroke="#222" stroke-width="0.18">2000</text><text x="512.85" y="505.00" font-size="6.50" font-family="'Liberation Serif', 'Times New Roman', serif" fill="#222" textLength="12.40" lengthAdjust="spacingAndGlyphs" stroke="#222" stroke-width="0.18">2500</text>
<text x="403.50" y="516.00" font-size="7.10" font-family="'Liberation Serif', 'Times New Roman', serif" fill="#1a1a1a" font-weight="bold" textLength="38.20" lengthAdjust="spacingAndGlyphs" stroke="#1a1a1a" stroke-width="0.15">Distance (m)</text>
<g transform="translate(292.9 419.0) rotate(-90)"><text x="0.00" y="0.00" font-size="7.30" font-family="'Liberation Serif', 'Times New Roman', serif" fill="#1a1a1a" font-weight="bold" textLength="43.50" lengthAdjust="spacingAndGlyphs" stroke="#1a1a1a" stroke-width="0.30">Salinity (PSU)</text></g>
<text x="386.80" y="303.80" font-size="6.20" font-family="'Liberation Serif', 'Times New Roman', serif" fill="#333" textLength="40.90" lengthAdjust="spacingAndGlyphs" stroke="#333" stroke-width="0.10">position of outlet</text>
<text x="383.80" y="488.00" font-size="6.20" font-family="'Liberation Serif', 'Times New Roman', serif" fill="#333" textLength="41.20" lengthAdjust="spacingAndGlyphs" stroke="#333" stroke-width="0.10">position of intake</text>
<path d="M496.8 302.4 H507.4" stroke="#6aa5dc" stroke-width="0.9"/>
<text x="508.50" y="304.20" font-size="6.30" font-family="'Liberation Serif', 'Times New Roman', serif" fill="#333" textLength="16.50" lengthAdjust="spacingAndGlyphs" stroke="#333" stroke-width="0.10">Plan A</text>
<path d="M496.8 318.4 H507.4" stroke="#60c68c" stroke-width="0.9"/>
<text x="508.50" y="320.20" font-size="6.30" font-family="'Liberation Serif', 'Times New Roman', serif" fill="#333" textLength="16.50" lengthAdjust="spacingAndGlyphs" stroke="#333" stroke-width="0.10">Plan B</text>
<path d="M496.8 334.4 H507.4" stroke="#ff6262" stroke-width="0.9"/>
<text x="508.50" y="336.20" font-size="6.30" font-family="'Liberation Serif', 'Times New Roman', serif" fill="#333" textLength="16.50" lengthAdjust="spacingAndGlyphs" stroke="#333" stroke-width="0.10">Plan C</text>
<text x="108.8" y="274.2" font-family="'Liberation Serif', 'Times New Roman', serif" font-size="11.6" fill="#1a1a1a" textLength="48.5" lengthAdjust="spacingAndGlyphs">(<tspan font-weight="bold">a</tspan>) Plan A</text>
<text x="384.7" y="274.2" font-family="'Liberation Serif', 'Times New Roman', serif" font-size="11.6" fill="#1a1a1a" textLength="48.1" lengthAdjust="spacingAndGlyphs">(<tspan font-weight="bold">b</tspan>) Plan B</text>
<text x="109.5" y="544.2" font-family="'Liberation Serif', 'Times New Roman', serif" font-size="11.6" fill="#1a1a1a" textLength="47.0" lengthAdjust="spacingAndGlyphs">(<tspan font-weight="bold">c</tspan>) Plan C</text>
<text x="364.4" y="544.3" font-family="'Liberation Serif', 'Times New Roman', serif" font-size="11.6" fill="#1a1a1a" textLength="88.6" lengthAdjust="spacingAndGlyphs">(<tspan font-weight="bold">d</tspan>) Salinity profile</text>
</svg>
</body></html>
